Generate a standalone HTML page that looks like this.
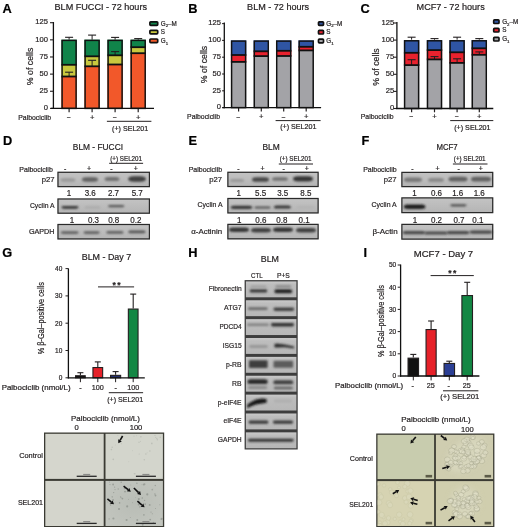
<!DOCTYPE html>
<html><head><meta charset="utf-8"><style>
html,body{margin:0;padding:0;background:#fff;}
svg{display:block;font-family:"Liberation Sans", Arial, Helvetica, sans-serif;filter:blur(0.3px);}
</style></head><body>
<svg width="520" height="528" viewBox="0 0 520 528">
<rect width="520" height="528" fill="#fff"/>
<text x="2.60" y="13.40" font-size="12.8" font-weight="bold" fill="#000" stroke="#000" stroke-width="0.2">A</text>
<text x="54.50" y="10.00" font-size="8.4" textLength="92.5" lengthAdjust="spacingAndGlyphs" fill="#231f20" stroke="#231f20" stroke-width="0.2">BLM FUCCI - 72 hours</text>
<line x1="53.40" y1="22.00" x2="53.40" y2="109.00" stroke="#111" stroke-width="1.3"/>
<line x1="50.00" y1="22.70" x2="53.40" y2="22.70" stroke="#231f20" stroke-width="1.1"/>
<text x="47.90" y="24.45" font-size="7.6" text-anchor="end" fill="#231f20" stroke="#231f20" stroke-width="0.2">125</text>
<line x1="50.00" y1="39.84" x2="53.40" y2="39.84" stroke="#231f20" stroke-width="1.1"/>
<text x="47.90" y="41.59" font-size="7.6" text-anchor="end" fill="#231f20" stroke="#231f20" stroke-width="0.2">100</text>
<line x1="50.00" y1="56.98" x2="53.40" y2="56.98" stroke="#231f20" stroke-width="1.1"/>
<text x="47.90" y="58.73" font-size="7.6" text-anchor="end" fill="#231f20" stroke="#231f20" stroke-width="0.2">75</text>
<line x1="50.00" y1="74.12" x2="53.40" y2="74.12" stroke="#231f20" stroke-width="1.1"/>
<text x="47.90" y="75.87" font-size="7.6" text-anchor="end" fill="#231f20" stroke="#231f20" stroke-width="0.2">50</text>
<line x1="50.00" y1="91.26" x2="53.40" y2="91.26" stroke="#231f20" stroke-width="1.1"/>
<text x="47.90" y="93.01" font-size="7.6" text-anchor="end" fill="#231f20" stroke="#231f20" stroke-width="0.2">25</text>
<line x1="50.00" y1="108.40" x2="53.40" y2="108.40" stroke="#231f20" stroke-width="1.1"/>
<text x="47.90" y="110.15" font-size="7.6" text-anchor="end" fill="#231f20" stroke="#231f20" stroke-width="0.2">0</text>
<text transform="translate(32.80,66.40) rotate(-90)" font-size="9.8" text-anchor="middle" textLength="37.5" lengthAdjust="spacingAndGlyphs" fill="#231f20" stroke="#231f20" stroke-width="0.2">% of cells</text>
<rect x="61.40" y="39.70" width="15.40" height="25.10" fill="#10844a"/>
<rect x="61.40" y="64.80" width="15.40" height="11.70" fill="#c9c83e"/>
<rect x="61.40" y="76.50" width="15.40" height="31.80" fill="#f2582a"/>
<line x1="69.10" y1="37.30" x2="69.10" y2="39.70" stroke="#231f20" stroke-width="1.0"/>
<line x1="65.10" y1="37.30" x2="73.10" y2="37.30" stroke="#231f20" stroke-width="1.1"/>
<line x1="69.10" y1="72.20" x2="69.10" y2="76.50" stroke="#231f20" stroke-width="1.0"/>
<line x1="65.10" y1="72.20" x2="73.10" y2="72.20" stroke="#231f20" stroke-width="1.1"/>
<line x1="61.40" y1="64.80" x2="76.80" y2="64.80" stroke="#111" stroke-width="1.8"/>
<line x1="61.40" y1="76.50" x2="76.80" y2="76.50" stroke="#111" stroke-width="1.8"/>
<rect x="62.10" y="40.40" width="14.00" height="68.00" fill="none" stroke="#111" stroke-width="1.45"/>
<line x1="69.10" y1="108.40" x2="69.10" y2="112.20" stroke="#231f20" stroke-width="1.2"/>
<rect x="84.40" y="39.70" width="15.40" height="16.60" fill="#10844a"/>
<rect x="84.40" y="56.30" width="15.40" height="10.00" fill="#c9c83e"/>
<rect x="84.40" y="66.30" width="15.40" height="42.00" fill="#f2582a"/>
<line x1="92.10" y1="35.10" x2="92.10" y2="39.70" stroke="#231f20" stroke-width="1.0"/>
<line x1="88.10" y1="35.10" x2="96.10" y2="35.10" stroke="#231f20" stroke-width="1.1"/>
<line x1="92.10" y1="60.30" x2="92.10" y2="66.30" stroke="#231f20" stroke-width="1.0"/>
<line x1="88.10" y1="60.30" x2="96.10" y2="60.30" stroke="#231f20" stroke-width="1.1"/>
<line x1="84.40" y1="56.30" x2="99.80" y2="56.30" stroke="#111" stroke-width="1.8"/>
<line x1="84.40" y1="66.30" x2="99.80" y2="66.30" stroke="#111" stroke-width="1.8"/>
<rect x="85.10" y="40.40" width="14.00" height="68.00" fill="none" stroke="#111" stroke-width="1.45"/>
<line x1="92.10" y1="108.40" x2="92.10" y2="112.20" stroke="#231f20" stroke-width="1.2"/>
<rect x="107.40" y="39.70" width="15.40" height="15.60" fill="#10844a"/>
<rect x="107.40" y="55.30" width="15.40" height="9.20" fill="#c9c83e"/>
<rect x="107.40" y="64.50" width="15.40" height="43.80" fill="#f2582a"/>
<line x1="115.10" y1="37.40" x2="115.10" y2="39.70" stroke="#231f20" stroke-width="1.0"/>
<line x1="111.10" y1="37.40" x2="119.10" y2="37.40" stroke="#231f20" stroke-width="1.1"/>
<line x1="115.10" y1="51.60" x2="115.10" y2="55.30" stroke="#231f20" stroke-width="1.0"/>
<line x1="111.10" y1="51.60" x2="119.10" y2="51.60" stroke="#231f20" stroke-width="1.1"/>
<line x1="107.40" y1="55.30" x2="122.80" y2="55.30" stroke="#111" stroke-width="1.8"/>
<line x1="107.40" y1="64.50" x2="122.80" y2="64.50" stroke="#111" stroke-width="1.8"/>
<rect x="108.10" y="40.40" width="14.00" height="68.00" fill="none" stroke="#111" stroke-width="1.45"/>
<line x1="115.10" y1="108.40" x2="115.10" y2="112.20" stroke="#231f20" stroke-width="1.2"/>
<rect x="130.50" y="39.70" width="15.40" height="7.50" fill="#10844a"/>
<rect x="130.50" y="47.20" width="15.40" height="6.00" fill="#c9c83e"/>
<rect x="130.50" y="53.20" width="15.40" height="55.10" fill="#f2582a"/>
<line x1="138.20" y1="38.60" x2="138.20" y2="39.70" stroke="#231f20" stroke-width="1.0"/>
<line x1="134.20" y1="38.60" x2="142.20" y2="38.60" stroke="#231f20" stroke-width="1.1"/>
<line x1="130.50" y1="47.20" x2="145.90" y2="47.20" stroke="#111" stroke-width="1.8"/>
<line x1="130.50" y1="53.20" x2="145.90" y2="53.20" stroke="#111" stroke-width="1.8"/>
<rect x="131.20" y="40.40" width="14.00" height="68.00" fill="none" stroke="#111" stroke-width="1.45"/>
<line x1="138.20" y1="108.40" x2="138.20" y2="112.20" stroke="#231f20" stroke-width="1.2"/>
<line x1="51.00" y1="108.40" x2="154.00" y2="108.40" stroke="#111" stroke-width="1.3"/>
<text x="51.20" y="119.70" font-size="6.9" text-anchor="end" fill="#231f20" stroke="#231f20" stroke-width="0.2">Palbociclib</text>
<text x="68.80" y="119.10" font-size="6.2" text-anchor="middle" fill="#231f20" stroke="#231f20" stroke-width="0.2">–</text>
<text x="92.10" y="119.90" font-size="7.6" text-anchor="middle" fill="#231f20" stroke="#231f20" stroke-width="0.2">+</text>
<text x="114.80" y="119.10" font-size="6.2" text-anchor="middle" fill="#231f20" stroke="#231f20" stroke-width="0.2">–</text>
<text x="138.20" y="119.90" font-size="7.6" text-anchor="middle" fill="#231f20" stroke="#231f20" stroke-width="0.2">+</text>
<line x1="106.90" y1="121.30" x2="151.40" y2="121.30" stroke="#231f20" stroke-width="1.0"/>
<text x="112.10" y="130.60" font-size="6.9" textLength="36.1" lengthAdjust="spacingAndGlyphs" fill="#231f20" stroke="#231f20" stroke-width="0.2">(+) SEL201</text>
<rect x="149.90" y="21.80" width="7.80" height="3.60" fill="#10844a" stroke="#111" stroke-width="1.7" rx="0.8"/>
<text x="160.80" y="25.80" font-size="6.3" fill="#231f20" stroke="#231f20" stroke-width="0.2">G<tspan font-size="4.3" dy="1.6">2</tspan><tspan dy="-1.6">–M</tspan></text>
<rect x="149.90" y="30.30" width="7.80" height="3.60" fill="#c9c83e" stroke="#111" stroke-width="1.7" rx="0.8"/>
<text x="160.80" y="34.30" font-size="6.3" fill="#231f20" stroke="#231f20" stroke-width="0.2">S</text>
<rect x="149.90" y="39.00" width="7.80" height="3.60" fill="#f2582a" stroke="#111" stroke-width="1.7" rx="0.8"/>
<text x="160.80" y="43.00" font-size="6.3" fill="#231f20" stroke="#231f20" stroke-width="0.2">G<tspan font-size="4.3" dy="1.6">1</tspan></text>
<text x="188.20" y="12.90" font-size="12.8" font-weight="bold" fill="#000" stroke="#000" stroke-width="0.2">B</text>
<text x="247.10" y="10.00" font-size="8.4" textLength="62.0" lengthAdjust="spacingAndGlyphs" fill="#231f20" stroke="#231f20" stroke-width="0.2">BLM - 72 hours</text>
<line x1="224.30" y1="22.50" x2="224.30" y2="108.20" stroke="#111" stroke-width="1.3"/>
<line x1="222.10" y1="23.60" x2="224.30" y2="23.60" stroke="#231f20" stroke-width="1.1"/>
<text x="221.00" y="25.35" font-size="7.6" text-anchor="end" fill="#231f20" stroke="#231f20" stroke-width="0.2">125</text>
<line x1="222.10" y1="40.40" x2="224.30" y2="40.40" stroke="#231f20" stroke-width="1.1"/>
<text x="221.00" y="42.15" font-size="7.6" text-anchor="end" fill="#231f20" stroke="#231f20" stroke-width="0.2">100</text>
<line x1="222.10" y1="57.20" x2="224.30" y2="57.20" stroke="#231f20" stroke-width="1.1"/>
<text x="221.00" y="58.95" font-size="7.6" text-anchor="end" fill="#231f20" stroke="#231f20" stroke-width="0.2">75</text>
<line x1="222.10" y1="74.00" x2="224.30" y2="74.00" stroke="#231f20" stroke-width="1.1"/>
<text x="221.00" y="75.75" font-size="7.6" text-anchor="end" fill="#231f20" stroke="#231f20" stroke-width="0.2">50</text>
<line x1="222.10" y1="90.80" x2="224.30" y2="90.80" stroke="#231f20" stroke-width="1.1"/>
<text x="221.00" y="92.55" font-size="7.6" text-anchor="end" fill="#231f20" stroke="#231f20" stroke-width="0.2">25</text>
<line x1="222.10" y1="107.60" x2="224.30" y2="107.60" stroke="#231f20" stroke-width="1.1"/>
<text x="221.00" y="109.35" font-size="7.6" text-anchor="end" fill="#231f20" stroke="#231f20" stroke-width="0.2">0</text>
<text transform="translate(206.50,64.50) rotate(-90)" font-size="9.8" text-anchor="middle" textLength="37.5" lengthAdjust="spacingAndGlyphs" fill="#231f20" stroke="#231f20" stroke-width="0.2">% of cells</text>
<rect x="230.90" y="40.40" width="15.40" height="14.60" fill="#2f55a4"/>
<rect x="230.90" y="55.00" width="15.40" height="6.90" fill="#e8222e"/>
<rect x="230.90" y="61.90" width="15.40" height="45.70" fill="#a3a3a7"/>
<line x1="230.90" y1="55.00" x2="246.30" y2="55.00" stroke="#111" stroke-width="1.8"/>
<line x1="230.90" y1="61.90" x2="246.30" y2="61.90" stroke="#111" stroke-width="1.8"/>
<rect x="231.60" y="41.10" width="14.00" height="66.50" fill="none" stroke="#111" stroke-width="1.45"/>
<line x1="238.60" y1="107.60" x2="238.60" y2="111.40" stroke="#231f20" stroke-width="1.2"/>
<rect x="253.60" y="40.40" width="15.40" height="10.90" fill="#2f55a4"/>
<rect x="253.60" y="51.30" width="15.40" height="4.80" fill="#e8222e"/>
<rect x="253.60" y="56.10" width="15.40" height="51.50" fill="#a3a3a7"/>
<line x1="253.60" y1="51.30" x2="269.00" y2="51.30" stroke="#111" stroke-width="1.8"/>
<line x1="253.60" y1="56.10" x2="269.00" y2="56.10" stroke="#111" stroke-width="1.8"/>
<rect x="254.30" y="41.10" width="14.00" height="66.50" fill="none" stroke="#111" stroke-width="1.45"/>
<line x1="261.30" y1="107.60" x2="261.30" y2="111.40" stroke="#231f20" stroke-width="1.2"/>
<rect x="276.00" y="40.40" width="15.40" height="10.40" fill="#2f55a4"/>
<rect x="276.00" y="50.80" width="15.40" height="5.20" fill="#e8222e"/>
<rect x="276.00" y="56.00" width="15.40" height="51.60" fill="#a3a3a7"/>
<line x1="276.00" y1="50.80" x2="291.40" y2="50.80" stroke="#111" stroke-width="1.8"/>
<line x1="276.00" y1="56.00" x2="291.40" y2="56.00" stroke="#111" stroke-width="1.8"/>
<rect x="276.70" y="41.10" width="14.00" height="66.50" fill="none" stroke="#111" stroke-width="1.45"/>
<line x1="283.70" y1="107.60" x2="283.70" y2="111.40" stroke="#231f20" stroke-width="1.2"/>
<rect x="298.50" y="40.40" width="15.40" height="6.40" fill="#2f55a4"/>
<rect x="298.50" y="46.80" width="15.40" height="3.60" fill="#e8222e"/>
<rect x="298.50" y="50.40" width="15.40" height="57.20" fill="#a3a3a7"/>
<line x1="298.50" y1="46.80" x2="313.90" y2="46.80" stroke="#111" stroke-width="1.8"/>
<line x1="298.50" y1="50.40" x2="313.90" y2="50.40" stroke="#111" stroke-width="1.8"/>
<rect x="299.20" y="41.10" width="14.00" height="66.50" fill="none" stroke="#111" stroke-width="1.45"/>
<line x1="306.20" y1="107.60" x2="306.20" y2="111.40" stroke="#231f20" stroke-width="1.2"/>
<line x1="222.40" y1="107.60" x2="321.10" y2="107.60" stroke="#111" stroke-width="1.3"/>
<text x="220.00" y="119.20" font-size="6.9" text-anchor="end" fill="#231f20" stroke="#231f20" stroke-width="0.2">Palbociclib</text>
<text x="238.30" y="118.60" font-size="6.2" text-anchor="middle" fill="#231f20" stroke="#231f20" stroke-width="0.2">–</text>
<text x="261.30" y="119.40" font-size="7.6" text-anchor="middle" fill="#231f20" stroke="#231f20" stroke-width="0.2">+</text>
<text x="283.40" y="118.60" font-size="6.2" text-anchor="middle" fill="#231f20" stroke="#231f20" stroke-width="0.2">–</text>
<text x="306.20" y="119.40" font-size="7.6" text-anchor="middle" fill="#231f20" stroke="#231f20" stroke-width="0.2">+</text>
<line x1="275.60" y1="120.60" x2="320.60" y2="120.60" stroke="#231f20" stroke-width="1.0"/>
<text x="280.20" y="129.30" font-size="6.9" textLength="36.3" lengthAdjust="spacingAndGlyphs" fill="#231f20" stroke="#231f20" stroke-width="0.2">(+) SEL201</text>
<rect x="318.50" y="21.80" width="5.00" height="3.60" fill="#2f55a4" stroke="#111" stroke-width="1.7" rx="0.8"/>
<text x="326.30" y="25.80" font-size="6.3" fill="#231f20" stroke="#231f20" stroke-width="0.2">G<tspan font-size="4.3" dy="1.6">2</tspan><tspan dy="-1.6">–M</tspan></text>
<rect x="318.50" y="30.40" width="5.00" height="3.60" fill="#e8222e" stroke="#111" stroke-width="1.7" rx="0.8"/>
<text x="326.30" y="34.40" font-size="6.3" fill="#231f20" stroke="#231f20" stroke-width="0.2">S</text>
<rect x="318.50" y="39.20" width="5.00" height="3.60" fill="#a3a3a7" stroke="#111" stroke-width="1.7" rx="0.8"/>
<text x="326.30" y="43.20" font-size="6.3" fill="#231f20" stroke="#231f20" stroke-width="0.2">G<tspan font-size="4.3" dy="1.6">1</tspan></text>
<text x="360.60" y="13.00" font-size="12.8" font-weight="bold" fill="#000" stroke="#000" stroke-width="0.2">C</text>
<text x="416.60" y="10.10" font-size="8.4" textLength="68.1" lengthAdjust="spacingAndGlyphs" fill="#231f20" stroke="#231f20" stroke-width="0.2">MCF7 - 72 hours</text>
<line x1="396.90" y1="22.00" x2="396.90" y2="109.10" stroke="#111" stroke-width="1.3"/>
<line x1="393.50" y1="23.00" x2="396.90" y2="23.00" stroke="#231f20" stroke-width="1.1"/>
<text x="394.20" y="24.75" font-size="7.6" text-anchor="end" fill="#231f20" stroke="#231f20" stroke-width="0.2">125</text>
<line x1="393.50" y1="40.10" x2="396.90" y2="40.10" stroke="#231f20" stroke-width="1.1"/>
<text x="394.20" y="41.85" font-size="7.6" text-anchor="end" fill="#231f20" stroke="#231f20" stroke-width="0.2">100</text>
<line x1="393.50" y1="57.20" x2="396.90" y2="57.20" stroke="#231f20" stroke-width="1.1"/>
<text x="394.20" y="58.95" font-size="7.6" text-anchor="end" fill="#231f20" stroke="#231f20" stroke-width="0.2">75</text>
<line x1="393.50" y1="74.30" x2="396.90" y2="74.30" stroke="#231f20" stroke-width="1.1"/>
<text x="394.20" y="76.05" font-size="7.6" text-anchor="end" fill="#231f20" stroke="#231f20" stroke-width="0.2">50</text>
<line x1="393.50" y1="91.40" x2="396.90" y2="91.40" stroke="#231f20" stroke-width="1.1"/>
<text x="394.20" y="93.15" font-size="7.6" text-anchor="end" fill="#231f20" stroke="#231f20" stroke-width="0.2">25</text>
<line x1="393.50" y1="108.50" x2="396.90" y2="108.50" stroke="#231f20" stroke-width="1.1"/>
<text x="394.20" y="110.25" font-size="7.6" text-anchor="end" fill="#231f20" stroke="#231f20" stroke-width="0.2">0</text>
<text transform="translate(378.80,67.00) rotate(-90)" font-size="9.8" text-anchor="middle" textLength="37.5" lengthAdjust="spacingAndGlyphs" fill="#231f20" stroke="#231f20" stroke-width="0.2">% of cells</text>
<rect x="403.90" y="40.10" width="15.40" height="12.70" fill="#2f55a4"/>
<rect x="403.90" y="52.80" width="15.40" height="12.30" fill="#e8222e"/>
<rect x="403.90" y="65.10" width="15.40" height="43.40" fill="#a3a3a7"/>
<line x1="411.60" y1="37.20" x2="411.60" y2="39.70" stroke="#231f20" stroke-width="1.0"/>
<line x1="407.60" y1="37.20" x2="415.60" y2="37.20" stroke="#231f20" stroke-width="1.1"/>
<line x1="411.60" y1="59.70" x2="411.60" y2="65.10" stroke="#231f20" stroke-width="1.0"/>
<line x1="407.60" y1="59.70" x2="415.60" y2="59.70" stroke="#231f20" stroke-width="1.1"/>
<line x1="403.90" y1="52.80" x2="419.30" y2="52.80" stroke="#111" stroke-width="1.8"/>
<line x1="403.90" y1="65.10" x2="419.30" y2="65.10" stroke="#111" stroke-width="1.8"/>
<rect x="404.60" y="40.80" width="14.00" height="67.70" fill="none" stroke="#111" stroke-width="1.45"/>
<line x1="411.60" y1="108.50" x2="411.60" y2="112.30" stroke="#231f20" stroke-width="1.2"/>
<rect x="426.80" y="40.10" width="15.40" height="10.00" fill="#2f55a4"/>
<rect x="426.80" y="50.10" width="15.40" height="9.30" fill="#e8222e"/>
<rect x="426.80" y="59.40" width="15.40" height="49.10" fill="#a3a3a7"/>
<line x1="434.50" y1="38.60" x2="434.50" y2="39.70" stroke="#231f20" stroke-width="1.0"/>
<line x1="430.50" y1="38.60" x2="438.50" y2="38.60" stroke="#231f20" stroke-width="1.1"/>
<line x1="434.50" y1="56.60" x2="434.50" y2="59.40" stroke="#231f20" stroke-width="1.0"/>
<line x1="430.50" y1="56.60" x2="438.50" y2="56.60" stroke="#231f20" stroke-width="1.1"/>
<line x1="426.80" y1="50.10" x2="442.20" y2="50.10" stroke="#111" stroke-width="1.8"/>
<line x1="426.80" y1="59.40" x2="442.20" y2="59.40" stroke="#111" stroke-width="1.8"/>
<rect x="427.50" y="40.80" width="14.00" height="67.70" fill="none" stroke="#111" stroke-width="1.45"/>
<line x1="434.50" y1="108.50" x2="434.50" y2="112.30" stroke="#231f20" stroke-width="1.2"/>
<rect x="449.40" y="40.10" width="15.40" height="12.20" fill="#2f55a4"/>
<rect x="449.40" y="52.30" width="15.40" height="10.60" fill="#e8222e"/>
<rect x="449.40" y="62.90" width="15.40" height="45.60" fill="#a3a3a7"/>
<line x1="457.10" y1="37.20" x2="457.10" y2="39.70" stroke="#231f20" stroke-width="1.0"/>
<line x1="453.10" y1="37.20" x2="461.10" y2="37.20" stroke="#231f20" stroke-width="1.1"/>
<line x1="457.10" y1="58.80" x2="457.10" y2="62.90" stroke="#231f20" stroke-width="1.0"/>
<line x1="453.10" y1="58.80" x2="461.10" y2="58.80" stroke="#231f20" stroke-width="1.1"/>
<line x1="449.40" y1="52.30" x2="464.80" y2="52.30" stroke="#111" stroke-width="1.8"/>
<line x1="449.40" y1="62.90" x2="464.80" y2="62.90" stroke="#111" stroke-width="1.8"/>
<rect x="450.10" y="40.80" width="14.00" height="67.70" fill="none" stroke="#111" stroke-width="1.45"/>
<line x1="457.10" y1="108.50" x2="457.10" y2="112.30" stroke="#231f20" stroke-width="1.2"/>
<rect x="471.60" y="40.10" width="15.40" height="8.20" fill="#2f55a4"/>
<rect x="471.60" y="48.30" width="15.40" height="6.50" fill="#e8222e"/>
<rect x="471.60" y="54.80" width="15.40" height="53.70" fill="#a3a3a7"/>
<line x1="479.30" y1="38.60" x2="479.30" y2="39.70" stroke="#231f20" stroke-width="1.0"/>
<line x1="475.30" y1="38.60" x2="483.30" y2="38.60" stroke="#231f20" stroke-width="1.1"/>
<line x1="479.30" y1="51.90" x2="479.30" y2="54.80" stroke="#231f20" stroke-width="1.0"/>
<line x1="475.30" y1="51.90" x2="483.30" y2="51.90" stroke="#231f20" stroke-width="1.1"/>
<line x1="471.60" y1="48.30" x2="487.00" y2="48.30" stroke="#111" stroke-width="1.8"/>
<line x1="471.60" y1="54.80" x2="487.00" y2="54.80" stroke="#111" stroke-width="1.8"/>
<rect x="472.30" y="40.80" width="14.00" height="67.70" fill="none" stroke="#111" stroke-width="1.45"/>
<line x1="479.30" y1="108.50" x2="479.30" y2="112.30" stroke="#231f20" stroke-width="1.2"/>
<line x1="396.00" y1="108.50" x2="493.30" y2="108.50" stroke="#111" stroke-width="1.3"/>
<text x="393.70" y="119.00" font-size="6.9" text-anchor="end" fill="#231f20" stroke="#231f20" stroke-width="0.2">Palbociclib</text>
<text x="411.30" y="118.40" font-size="6.2" text-anchor="middle" fill="#231f20" stroke="#231f20" stroke-width="0.2">–</text>
<text x="434.50" y="119.20" font-size="7.6" text-anchor="middle" fill="#231f20" stroke="#231f20" stroke-width="0.2">+</text>
<text x="456.80" y="118.40" font-size="6.2" text-anchor="middle" fill="#231f20" stroke="#231f20" stroke-width="0.2">–</text>
<text x="479.30" y="119.20" font-size="7.6" text-anchor="middle" fill="#231f20" stroke="#231f20" stroke-width="0.2">+</text>
<line x1="450.20" y1="120.60" x2="493.30" y2="120.60" stroke="#231f20" stroke-width="1.0"/>
<text x="454.20" y="129.80" font-size="6.9" textLength="36.4" lengthAdjust="spacingAndGlyphs" fill="#231f20" stroke="#231f20" stroke-width="0.2">(+) SEL201</text>
<rect x="493.70" y="19.90" width="5.30" height="3.60" fill="#2f55a4" stroke="#111" stroke-width="1.7" rx="0.8"/>
<text x="502.20" y="23.90" font-size="6.3" fill="#231f20" stroke="#231f20" stroke-width="0.2">G<tspan font-size="4.3" dy="1.6">2</tspan><tspan dy="-1.6">–M</tspan></text>
<rect x="493.70" y="28.40" width="5.30" height="3.60" fill="#e8222e" stroke="#111" stroke-width="1.7" rx="0.8"/>
<text x="502.20" y="32.40" font-size="6.3" fill="#231f20" stroke="#231f20" stroke-width="0.2">S</text>
<rect x="493.70" y="37.40" width="5.30" height="3.60" fill="#a3a3a7" stroke="#111" stroke-width="1.7" rx="0.8"/>
<text x="502.20" y="41.40" font-size="6.3" fill="#231f20" stroke="#231f20" stroke-width="0.2">G<tspan font-size="4.3" dy="1.6">1</tspan></text>
<defs><filter id="bl" x="-30%" y="-100%" width="160%" height="300%"><feGaussianBlur stdDeviation="1.1"/></filter><filter id="bl2" x="-30%" y="-100%" width="160%" height="300%"><feGaussianBlur stdDeviation="0.85"/></filter><linearGradient id="bgH" x1="0" y1="0" x2="0" y2="1"><stop offset="0" stop-color="#c9c9c9"/><stop offset="0.2" stop-color="#bdbdbd"/><stop offset="1" stop-color="#b7b7b7"/></linearGradient><linearGradient id="bg" x1="0" y1="0" x2="0" y2="1"><stop offset="0" stop-color="#c4c4c4"/><stop offset="1" stop-color="#b4b4b4"/></linearGradient></defs>
<text x="3.00" y="144.80" font-size="12.8" font-weight="bold" fill="#000" stroke="#000" stroke-width="0.2">D</text>
<text x="72.80" y="150.00" font-size="8.4" textLength="50.2" lengthAdjust="spacingAndGlyphs" fill="#231f20" stroke="#231f20" stroke-width="0.2">BLM - FUCCI</text>
<text x="110.30" y="161.00" font-size="6.6" textLength="31.7" lengthAdjust="spacingAndGlyphs" fill="#231f20" stroke="#231f20" stroke-width="0.2">(+) SEL201</text>
<line x1="109.20" y1="163.30" x2="143.10" y2="163.30" stroke="#231f20" stroke-width="1.0"/>
<text x="52.80" y="171.60" font-size="7.0" text-anchor="end" fill="#231f20" stroke="#231f20" stroke-width="0.2">Palbociclib</text>
<text x="65.20" y="171.30" font-size="7.0" text-anchor="middle" fill="#231f20" stroke="#231f20" stroke-width="0.2">-</text>
<text x="89.10" y="171.30" font-size="7.0" text-anchor="middle" fill="#231f20" stroke="#231f20" stroke-width="0.2">+</text>
<text x="111.30" y="171.30" font-size="7.0" text-anchor="middle" fill="#231f20" stroke="#231f20" stroke-width="0.2">-</text>
<text x="135.70" y="171.30" font-size="7.0" text-anchor="middle" fill="#231f20" stroke="#231f20" stroke-width="0.2">+</text>
<rect x="57.40" y="171.70" width="92.60" height="15.50" fill="url(#bg)"/>
<rect x="60.50" y="178.20" width="15.00" height="3.60" rx="3.60" ry="1.80" fill="rgb(153,153,153)" filter="url(#bl)"/>
<rect x="82.00" y="177.30" width="16.00" height="4.40" rx="4.40" ry="2.20" fill="rgb(96,96,96)" filter="url(#bl)"/>
<rect x="104.50" y="177.00" width="15.00" height="4.00" rx="4.00" ry="2.00" fill="rgb(112,112,112)" filter="url(#bl)"/>
<rect x="128.00" y="176.20" width="18.00" height="5.60" rx="5.60" ry="2.80" fill="rgb(63,63,63)" filter="url(#bl)"/>
<rect x="58.00" y="172.30" width="91.40" height="14.30" fill="none" stroke="#2a2a2a" stroke-width="1.2"/>
<text x="54.50" y="182.22" font-size="7.7" text-anchor="end" fill="#231f20" stroke="#231f20" stroke-width="0.2">p27</text>
<text x="69.00" y="196.14" font-size="9.0" text-anchor="middle" textLength="4.45" lengthAdjust="spacingAndGlyphs" fill="#231f20" stroke="#231f20" stroke-width="0.2">1</text>
<text x="90.20" y="196.14" font-size="9.0" text-anchor="middle" textLength="11.12" lengthAdjust="spacingAndGlyphs" fill="#231f20" stroke="#231f20" stroke-width="0.2">3.6</text>
<text x="113.50" y="196.14" font-size="9.0" text-anchor="middle" textLength="11.12" lengthAdjust="spacingAndGlyphs" fill="#231f20" stroke="#231f20" stroke-width="0.2">2.7</text>
<text x="137.20" y="196.14" font-size="9.0" text-anchor="middle" textLength="11.12" lengthAdjust="spacingAndGlyphs" fill="#231f20" stroke="#231f20" stroke-width="0.2">5.7</text>
<rect x="57.40" y="198.40" width="92.60" height="15.40" fill="url(#bg)"/>
<rect x="61.40" y="205.90" width="17.20" height="2.80" rx="2.80" ry="1.40" fill="rgb(54,54,54)" filter="url(#bl)"/>
<rect x="84.50" y="206.20" width="16.00" height="2.40" rx="2.40" ry="1.20" fill="rgb(170,170,170)" filter="url(#bl)"/>
<rect x="108.00" y="204.90" width="16.40" height="2.40" rx="2.40" ry="1.20" fill="rgb(87,87,87)" filter="url(#bl)"/>
<rect x="58.00" y="199.00" width="91.40" height="14.20" fill="none" stroke="#2a2a2a" stroke-width="1.2"/>
<text x="54.50" y="207.77" font-size="7.7" text-anchor="end" textLength="24.6" lengthAdjust="spacingAndGlyphs" fill="#231f20" stroke="#231f20" stroke-width="0.2">Cyclin A</text>
<text x="71.90" y="222.74" font-size="9.0" text-anchor="middle" textLength="4.45" lengthAdjust="spacingAndGlyphs" fill="#231f20" stroke="#231f20" stroke-width="0.2">1</text>
<text x="93.50" y="222.74" font-size="9.0" text-anchor="middle" textLength="11.12" lengthAdjust="spacingAndGlyphs" fill="#231f20" stroke="#231f20" stroke-width="0.2">0.3</text>
<text x="113.70" y="222.74" font-size="9.0" text-anchor="middle" textLength="11.12" lengthAdjust="spacingAndGlyphs" fill="#231f20" stroke="#231f20" stroke-width="0.2">0.8</text>
<text x="135.80" y="222.74" font-size="9.0" text-anchor="middle" textLength="11.12" lengthAdjust="spacingAndGlyphs" fill="#231f20" stroke="#231f20" stroke-width="0.2">0.2</text>
<rect x="57.40" y="223.90" width="92.60" height="15.60" fill="url(#bg)"/>
<rect x="60.70" y="231.30" width="18.00" height="2.60" rx="2.60" ry="1.30" fill="rgb(96,96,96)" filter="url(#bl)"/>
<rect x="83.40" y="231.30" width="16.40" height="2.60" rx="2.60" ry="1.30" fill="rgb(96,96,96)" filter="url(#bl)"/>
<rect x="106.20" y="231.10" width="17.40" height="2.60" rx="2.60" ry="1.30" fill="rgb(96,96,96)" filter="url(#bl)"/>
<rect x="128.20" y="230.50" width="17.40" height="2.80" rx="2.80" ry="1.40" fill="rgb(82,82,82)" filter="url(#bl)"/>
<rect x="58.00" y="224.50" width="91.40" height="14.40" fill="none" stroke="#2a2a2a" stroke-width="1.2"/>
<text x="54.50" y="233.97" font-size="7.7" text-anchor="end" textLength="25.6" lengthAdjust="spacingAndGlyphs" fill="#231f20" stroke="#231f20" stroke-width="0.2">GAPDH</text>
<text x="188.60" y="144.90" font-size="12.8" font-weight="bold" fill="#000" stroke="#000" stroke-width="0.2">E</text>
<text x="262.50" y="150.00" font-size="8.4" textLength="17.3" lengthAdjust="spacingAndGlyphs" fill="#231f20" stroke="#231f20" stroke-width="0.2">BLM</text>
<text x="279.80" y="161.00" font-size="6.6" textLength="31.7" lengthAdjust="spacingAndGlyphs" fill="#231f20" stroke="#231f20" stroke-width="0.2">(+) SEL201</text>
<line x1="278.80" y1="164.00" x2="313.00" y2="164.00" stroke="#231f20" stroke-width="1.0"/>
<text x="222.10" y="171.60" font-size="7.0" text-anchor="end" fill="#231f20" stroke="#231f20" stroke-width="0.2">Palbociclib</text>
<text x="238.50" y="171.30" font-size="7.0" text-anchor="middle" fill="#231f20" stroke="#231f20" stroke-width="0.2">-</text>
<text x="262.50" y="171.30" font-size="7.0" text-anchor="middle" fill="#231f20" stroke="#231f20" stroke-width="0.2">+</text>
<text x="283.70" y="171.30" font-size="7.0" text-anchor="middle" fill="#231f20" stroke="#231f20" stroke-width="0.2">-</text>
<text x="306.70" y="171.30" font-size="7.0" text-anchor="middle" fill="#231f20" stroke="#231f20" stroke-width="0.2">+</text>
<rect x="227.30" y="171.70" width="91.40" height="15.40" fill="url(#bg)"/>
<rect x="230.00" y="179.00" width="14.00" height="3.00" rx="3.00" ry="1.50" fill="rgb(153,153,153)" filter="url(#bl)"/>
<rect x="252.00" y="177.20" width="17.00" height="4.60" rx="4.60" ry="2.30" fill="rgb(71,71,71)" filter="url(#bl)"/>
<rect x="272.00" y="177.20" width="16.00" height="3.60" rx="3.60" ry="1.80" fill="rgb(112,112,112)" filter="url(#bl)"/>
<rect x="293.00" y="176.20" width="20.00" height="5.20" rx="5.20" ry="2.60" fill="rgb(54,54,54)" filter="url(#bl)"/>
<rect x="227.90" y="172.30" width="90.20" height="14.20" fill="none" stroke="#2a2a2a" stroke-width="1.2"/>
<text x="222.10" y="182.17" font-size="7.7" text-anchor="end" fill="#231f20" stroke="#231f20" stroke-width="0.2">p27</text>
<text x="238.80" y="195.54" font-size="9.0" text-anchor="middle" textLength="4.45" lengthAdjust="spacingAndGlyphs" fill="#231f20" stroke="#231f20" stroke-width="0.2">1</text>
<text x="260.60" y="195.54" font-size="9.0" text-anchor="middle" textLength="11.12" lengthAdjust="spacingAndGlyphs" fill="#231f20" stroke="#231f20" stroke-width="0.2">5.5</text>
<text x="282.70" y="195.54" font-size="9.0" text-anchor="middle" textLength="11.12" lengthAdjust="spacingAndGlyphs" fill="#231f20" stroke="#231f20" stroke-width="0.2">3.5</text>
<text x="305.80" y="195.54" font-size="9.0" text-anchor="middle" textLength="11.12" lengthAdjust="spacingAndGlyphs" fill="#231f20" stroke="#231f20" stroke-width="0.2">8.5</text>
<rect x="227.30" y="197.90" width="91.40" height="15.60" fill="url(#bg)"/>
<rect x="230.70" y="205.70" width="21.60" height="3.20" rx="3.20" ry="1.60" fill="rgb(54,54,54)" filter="url(#bl)"/>
<rect x="254.30" y="206.40" width="16.40" height="2.20" rx="2.20" ry="1.10" fill="rgb(79,79,79)" filter="url(#bl)"/>
<rect x="273.90" y="205.40" width="17.00" height="3.20" rx="3.20" ry="1.60" fill="rgb(54,54,54)" filter="url(#bl)"/>
<rect x="296.50" y="206.30" width="18.00" height="2.00" rx="2.00" ry="1.00" fill="rgb(178,178,178)" filter="url(#bl)"/>
<rect x="227.90" y="198.50" width="90.20" height="14.40" fill="none" stroke="#2a2a2a" stroke-width="1.2"/>
<text x="222.50" y="207.37" font-size="7.7" text-anchor="end" textLength="24.9" lengthAdjust="spacingAndGlyphs" fill="#231f20" stroke="#231f20" stroke-width="0.2">Cyclin A</text>
<text x="239.10" y="222.74" font-size="9.0" text-anchor="middle" textLength="4.45" lengthAdjust="spacingAndGlyphs" fill="#231f20" stroke="#231f20" stroke-width="0.2">1</text>
<text x="260.90" y="222.74" font-size="9.0" text-anchor="middle" textLength="11.12" lengthAdjust="spacingAndGlyphs" fill="#231f20" stroke="#231f20" stroke-width="0.2">0.6</text>
<text x="281.80" y="222.74" font-size="9.0" text-anchor="middle" textLength="11.12" lengthAdjust="spacingAndGlyphs" fill="#231f20" stroke="#231f20" stroke-width="0.2">0.8</text>
<text x="304.10" y="222.74" font-size="9.0" text-anchor="middle" textLength="11.12" lengthAdjust="spacingAndGlyphs" fill="#231f20" stroke="#231f20" stroke-width="0.2">0.1</text>
<rect x="227.30" y="223.80" width="91.40" height="15.60" fill="url(#bg)"/>
<rect x="229.00" y="227.60" width="20.00" height="4.40" rx="4.40" ry="2.20" fill="rgb(54,54,54)" filter="url(#bl)"/>
<rect x="251.00" y="228.10" width="20.00" height="4.40" rx="4.40" ry="2.20" fill="rgb(63,63,63)" filter="url(#bl)"/>
<rect x="273.00" y="227.60" width="20.00" height="4.40" rx="4.40" ry="2.20" fill="rgb(54,54,54)" filter="url(#bl)"/>
<rect x="296.00" y="228.00" width="20.00" height="4.40" rx="4.40" ry="2.20" fill="rgb(63,63,63)" filter="url(#bl)"/>
<rect x="227.90" y="224.40" width="90.20" height="14.40" fill="none" stroke="#2a2a2a" stroke-width="1.2"/>
<text x="222.10" y="233.87" font-size="7.7" text-anchor="end" textLength="30.8" lengthAdjust="spacingAndGlyphs" fill="#231f20" stroke="#231f20" stroke-width="0.2">α-Actinin</text>
<text x="361.60" y="145.00" font-size="12.8" font-weight="bold" fill="#000" stroke="#000" stroke-width="0.2">F</text>
<text x="436.50" y="150.00" font-size="8.4" textLength="21.2" lengthAdjust="spacingAndGlyphs" fill="#231f20" stroke="#231f20" stroke-width="0.2">MCF7</text>
<text x="453.80" y="161.00" font-size="6.6" textLength="31.8" lengthAdjust="spacingAndGlyphs" fill="#231f20" stroke="#231f20" stroke-width="0.2">(+) SEL201</text>
<line x1="452.90" y1="164.00" x2="487.50" y2="164.00" stroke="#231f20" stroke-width="1.0"/>
<text x="396.60" y="171.60" font-size="7.0" text-anchor="end" fill="#231f20" stroke="#231f20" stroke-width="0.2">Palbociclib</text>
<text x="412.50" y="171.30" font-size="7.0" text-anchor="middle" fill="#231f20" stroke="#231f20" stroke-width="0.2">-</text>
<text x="437.50" y="171.30" font-size="7.0" text-anchor="middle" fill="#231f20" stroke="#231f20" stroke-width="0.2">+</text>
<text x="458.70" y="171.30" font-size="7.0" text-anchor="middle" fill="#231f20" stroke="#231f20" stroke-width="0.2">-</text>
<text x="480.80" y="171.30" font-size="7.0" text-anchor="middle" fill="#231f20" stroke="#231f20" stroke-width="0.2">+</text>
<rect x="401.30" y="171.80" width="92.00" height="15.40" fill="url(#bg)"/>
<rect x="404.00" y="177.60" width="18.00" height="4.40" rx="4.40" ry="2.20" fill="rgb(120,120,120)" filter="url(#bl)"/>
<rect x="428.00" y="178.00" width="16.00" height="4.00" rx="4.00" ry="2.00" fill="rgb(137,137,137)" filter="url(#bl)"/>
<rect x="448.50" y="176.80" width="19.00" height="4.80" rx="4.80" ry="2.40" fill="rgb(96,96,96)" filter="url(#bl)"/>
<rect x="471.00" y="176.80" width="20.00" height="4.80" rx="4.80" ry="2.40" fill="rgb(96,96,96)" filter="url(#bl)"/>
<rect x="401.90" y="172.40" width="90.80" height="14.20" fill="none" stroke="#2a2a2a" stroke-width="1.2"/>
<text x="396.60" y="182.27" font-size="7.7" text-anchor="end" fill="#231f20" stroke="#231f20" stroke-width="0.2">p27</text>
<text x="414.40" y="195.54" font-size="9.0" text-anchor="middle" textLength="4.45" lengthAdjust="spacingAndGlyphs" fill="#231f20" stroke="#231f20" stroke-width="0.2">1</text>
<text x="436.50" y="195.54" font-size="9.0" text-anchor="middle" textLength="11.12" lengthAdjust="spacingAndGlyphs" fill="#231f20" stroke="#231f20" stroke-width="0.2">0.6</text>
<text x="457.70" y="195.54" font-size="9.0" text-anchor="middle" textLength="11.12" lengthAdjust="spacingAndGlyphs" fill="#231f20" stroke="#231f20" stroke-width="0.2">1.6</text>
<text x="479.20" y="195.54" font-size="9.0" text-anchor="middle" textLength="11.12" lengthAdjust="spacingAndGlyphs" fill="#231f20" stroke="#231f20" stroke-width="0.2">1.6</text>
<rect x="401.30" y="197.30" width="92.00" height="15.90" fill="url(#bg)"/>
<rect x="403.80" y="204.60" width="21.60" height="4.40" rx="4.40" ry="2.20" fill="rgb(30,30,30)" filter="url(#bl)"/>
<rect x="450.20" y="204.20" width="16.40" height="2.20" rx="2.20" ry="1.10" fill="rgb(76,76,76)" filter="url(#bl)"/>
<rect x="401.90" y="197.90" width="90.80" height="14.70" fill="none" stroke="#2a2a2a" stroke-width="1.2"/>
<text x="396.70" y="206.92" font-size="7.7" text-anchor="end" textLength="25.1" lengthAdjust="spacingAndGlyphs" fill="#231f20" stroke="#231f20" stroke-width="0.2">Cyclin A</text>
<text x="414.90" y="222.74" font-size="9.0" text-anchor="middle" textLength="4.45" lengthAdjust="spacingAndGlyphs" fill="#231f20" stroke="#231f20" stroke-width="0.2">1</text>
<text x="436.50" y="222.74" font-size="9.0" text-anchor="middle" textLength="11.12" lengthAdjust="spacingAndGlyphs" fill="#231f20" stroke="#231f20" stroke-width="0.2">0.2</text>
<text x="459.00" y="222.74" font-size="9.0" text-anchor="middle" textLength="11.12" lengthAdjust="spacingAndGlyphs" fill="#231f20" stroke="#231f20" stroke-width="0.2">0.7</text>
<text x="477.80" y="222.74" font-size="9.0" text-anchor="middle" textLength="11.12" lengthAdjust="spacingAndGlyphs" fill="#231f20" stroke="#231f20" stroke-width="0.2">0.1</text>
<rect x="401.30" y="223.80" width="92.00" height="15.90" fill="url(#bg)"/>
<rect x="402.50" y="231.00" width="23.00" height="3.20" rx="3.20" ry="1.60" fill="rgb(71,71,71)" filter="url(#bl)"/>
<rect x="424.50" y="231.40" width="23.00" height="3.20" rx="3.20" ry="1.60" fill="rgb(71,71,71)" filter="url(#bl)"/>
<rect x="446.50" y="231.00" width="23.00" height="3.20" rx="3.20" ry="1.60" fill="rgb(71,71,71)" filter="url(#bl)"/>
<rect x="469.50" y="230.50" width="23.00" height="3.20" rx="3.20" ry="1.60" fill="rgb(71,71,71)" filter="url(#bl)"/>
<rect x="401.90" y="224.40" width="90.80" height="14.70" fill="none" stroke="#2a2a2a" stroke-width="1.2"/>
<text x="397.60" y="234.02" font-size="7.7" text-anchor="end" textLength="25.1" lengthAdjust="spacingAndGlyphs" fill="#231f20" stroke="#231f20" stroke-width="0.2">β-Actin</text>
<text x="2.20" y="256.90" font-size="12.8" font-weight="bold" fill="#000" stroke="#000" stroke-width="0.2">G</text>
<text x="81.70" y="259.80" font-size="8.4" textLength="49.5" lengthAdjust="spacingAndGlyphs" fill="#231f20" stroke="#231f20" stroke-width="0.2">BLM - Day 7</text>
<line x1="68.40" y1="268.40" x2="68.40" y2="378.40" stroke="#111" stroke-width="1.3"/>
<line x1="65.50" y1="377.80" x2="68.40" y2="377.80" stroke="#231f20" stroke-width="1.0"/>
<text x="62.30" y="380.10" font-size="6.5" text-anchor="end" fill="#231f20" stroke="#231f20" stroke-width="0.2">0</text>
<line x1="65.50" y1="350.50" x2="68.40" y2="350.50" stroke="#231f20" stroke-width="1.0"/>
<text x="62.30" y="352.80" font-size="6.5" text-anchor="end" fill="#231f20" stroke="#231f20" stroke-width="0.2">10</text>
<line x1="65.50" y1="323.20" x2="68.40" y2="323.20" stroke="#231f20" stroke-width="1.0"/>
<text x="62.30" y="325.50" font-size="6.5" text-anchor="end" fill="#231f20" stroke="#231f20" stroke-width="0.2">20</text>
<line x1="65.50" y1="295.90" x2="68.40" y2="295.90" stroke="#231f20" stroke-width="1.0"/>
<text x="62.30" y="298.20" font-size="6.5" text-anchor="end" fill="#231f20" stroke="#231f20" stroke-width="0.2">30</text>
<line x1="65.50" y1="268.60" x2="68.40" y2="268.60" stroke="#231f20" stroke-width="1.0"/>
<text x="62.30" y="270.90" font-size="6.5" text-anchor="end" fill="#231f20" stroke="#231f20" stroke-width="0.2">40</text>
<text transform="translate(44.40,318.20) rotate(-90)" font-size="8.2" text-anchor="middle" textLength="72.0" lengthAdjust="spacingAndGlyphs" fill="#231f20" stroke="#231f20" stroke-width="0.2">% β-Gal–positive cells</text>
<line x1="80.40" y1="372.70" x2="80.40" y2="375.20" stroke="#231f20" stroke-width="1.1"/>
<line x1="77.40" y1="372.70" x2="83.40" y2="372.70" stroke="#231f20" stroke-width="1.1"/>
<rect x="75.55" y="375.75" width="9.70" height="2.05" fill="#111" stroke="#231f20" stroke-width="1.1"/>
<line x1="80.40" y1="377.80" x2="80.40" y2="382.20" stroke="#231f20" stroke-width="1.0"/>
<line x1="97.80" y1="361.90" x2="97.80" y2="367.00" stroke="#231f20" stroke-width="1.1"/>
<line x1="94.80" y1="361.90" x2="100.80" y2="361.90" stroke="#231f20" stroke-width="1.1"/>
<rect x="92.95" y="367.55" width="9.70" height="10.25" fill="#e62129" stroke="#231f20" stroke-width="1.1"/>
<line x1="97.80" y1="377.80" x2="97.80" y2="382.20" stroke="#231f20" stroke-width="1.0"/>
<line x1="115.60" y1="371.60" x2="115.60" y2="374.80" stroke="#231f20" stroke-width="1.1"/>
<line x1="112.60" y1="371.60" x2="118.60" y2="371.60" stroke="#231f20" stroke-width="1.1"/>
<rect x="110.55" y="375.35" width="10.10" height="2.45" fill="#24306e" stroke="#231f20" stroke-width="1.1"/>
<line x1="115.60" y1="377.80" x2="115.60" y2="382.20" stroke="#231f20" stroke-width="1.0"/>
<line x1="133.20" y1="294.10" x2="133.20" y2="308.50" stroke="#231f20" stroke-width="1.1"/>
<line x1="130.20" y1="294.10" x2="136.20" y2="294.10" stroke="#231f20" stroke-width="1.1"/>
<rect x="128.35" y="309.05" width="9.70" height="68.75" fill="#138744" stroke="#231f20" stroke-width="1.1"/>
<line x1="133.20" y1="377.80" x2="133.20" y2="382.20" stroke="#231f20" stroke-width="1.0"/>
<line x1="67.80" y1="377.80" x2="144.80" y2="377.80" stroke="#111" stroke-width="1.3"/>
<line x1="98.00" y1="286.90" x2="134.10" y2="286.90" stroke="#231f20" stroke-width="1.0"/>
<text x="117.30" y="287.80" font-size="8.6" text-anchor="middle" font-weight="bold" fill="#231f20" stroke="#231f20" stroke-width="0.2" letter-spacing="1.4">**</text>
<text x="80.40" y="390.20" font-size="7.2" text-anchor="middle" fill="#231f20" stroke="#231f20" stroke-width="0.2">-</text>
<text x="97.80" y="390.20" font-size="7.2" text-anchor="middle" fill="#231f20" stroke="#231f20" stroke-width="0.2">100</text>
<text x="115.60" y="390.20" font-size="7.2" text-anchor="middle" fill="#231f20" stroke="#231f20" stroke-width="0.2">-</text>
<text x="133.20" y="390.20" font-size="7.2" text-anchor="middle" fill="#231f20" stroke="#231f20" stroke-width="0.2">100</text>
<text x="1.70" y="390.20" font-size="7.2" textLength="68.9" lengthAdjust="spacingAndGlyphs" fill="#231f20" stroke="#231f20" stroke-width="0.2">Palbociclib (nmol/L)</text>
<line x1="108.80" y1="392.70" x2="143.10" y2="392.70" stroke="#231f20" stroke-width="1.0"/>
<text x="107.20" y="401.60" font-size="7.2" textLength="35.9" lengthAdjust="spacingAndGlyphs" fill="#231f20" stroke="#231f20" stroke-width="0.2">(+) SEL201</text>
<text x="363.50" y="256.50" font-size="12.8" font-weight="bold" fill="#000" stroke="#000" stroke-width="0.2">I</text>
<text x="413.80" y="257.30" font-size="8.4" textLength="59.3" lengthAdjust="spacingAndGlyphs" fill="#231f20" stroke="#231f20" stroke-width="0.2">MCF7 - Day 7</text>
<line x1="400.60" y1="264.50" x2="400.60" y2="376.60" stroke="#111" stroke-width="1.3"/>
<line x1="397.70" y1="376.00" x2="400.60" y2="376.00" stroke="#231f20" stroke-width="1.0"/>
<text x="396.20" y="378.30" font-size="6.5" text-anchor="end" fill="#231f20" stroke="#231f20" stroke-width="0.2">0</text>
<line x1="397.70" y1="353.80" x2="400.60" y2="353.80" stroke="#231f20" stroke-width="1.0"/>
<text x="396.20" y="356.10" font-size="6.5" text-anchor="end" fill="#231f20" stroke="#231f20" stroke-width="0.2">10</text>
<line x1="397.70" y1="331.60" x2="400.60" y2="331.60" stroke="#231f20" stroke-width="1.0"/>
<text x="396.20" y="333.90" font-size="6.5" text-anchor="end" fill="#231f20" stroke="#231f20" stroke-width="0.2">20</text>
<line x1="397.70" y1="309.40" x2="400.60" y2="309.40" stroke="#231f20" stroke-width="1.0"/>
<text x="396.20" y="311.70" font-size="6.5" text-anchor="end" fill="#231f20" stroke="#231f20" stroke-width="0.2">30</text>
<line x1="397.70" y1="287.20" x2="400.60" y2="287.20" stroke="#231f20" stroke-width="1.0"/>
<text x="396.20" y="289.50" font-size="6.5" text-anchor="end" fill="#231f20" stroke="#231f20" stroke-width="0.2">40</text>
<line x1="397.70" y1="265.00" x2="400.60" y2="265.00" stroke="#231f20" stroke-width="1.0"/>
<text x="396.20" y="267.30" font-size="6.5" text-anchor="end" fill="#231f20" stroke="#231f20" stroke-width="0.2">50</text>
<text transform="translate(383.80,321.10) rotate(-90)" font-size="8.2" text-anchor="middle" textLength="72.0" lengthAdjust="spacingAndGlyphs" fill="#231f20" stroke="#231f20" stroke-width="0.2">% β-Gal–positive cells</text>
<line x1="413.30" y1="354.40" x2="413.30" y2="357.60" stroke="#231f20" stroke-width="1.1"/>
<line x1="410.30" y1="354.40" x2="416.30" y2="354.40" stroke="#231f20" stroke-width="1.1"/>
<rect x="408.05" y="358.15" width="10.50" height="17.85" fill="#111" stroke="#231f20" stroke-width="1.1"/>
<line x1="413.30" y1="376.00" x2="413.30" y2="380.40" stroke="#231f20" stroke-width="1.0"/>
<line x1="431.10" y1="321.00" x2="431.10" y2="329.00" stroke="#231f20" stroke-width="1.1"/>
<line x1="428.10" y1="321.00" x2="434.10" y2="321.00" stroke="#231f20" stroke-width="1.1"/>
<rect x="426.05" y="329.55" width="10.10" height="46.45" fill="#e62129" stroke="#231f20" stroke-width="1.1"/>
<line x1="431.10" y1="376.00" x2="431.10" y2="380.40" stroke="#231f20" stroke-width="1.0"/>
<line x1="449.30" y1="361.20" x2="449.30" y2="362.90" stroke="#231f20" stroke-width="1.1"/>
<line x1="446.30" y1="361.20" x2="452.30" y2="361.20" stroke="#231f20" stroke-width="1.1"/>
<rect x="444.05" y="363.45" width="10.50" height="12.55" fill="#2b3f94" stroke="#231f20" stroke-width="1.1"/>
<line x1="449.30" y1="376.00" x2="449.30" y2="380.40" stroke="#231f20" stroke-width="1.0"/>
<line x1="467.20" y1="282.30" x2="467.20" y2="295.00" stroke="#231f20" stroke-width="1.1"/>
<line x1="464.20" y1="282.30" x2="470.20" y2="282.30" stroke="#231f20" stroke-width="1.1"/>
<rect x="461.90" y="295.55" width="10.60" height="80.45" fill="#138744" stroke="#231f20" stroke-width="1.1"/>
<line x1="467.20" y1="376.00" x2="467.20" y2="380.40" stroke="#231f20" stroke-width="1.0"/>
<line x1="400.00" y1="376.00" x2="479.40" y2="376.00" stroke="#111" stroke-width="1.3"/>
<line x1="430.60" y1="275.60" x2="473.80" y2="275.60" stroke="#231f20" stroke-width="1.0"/>
<text x="452.90" y="276.20" font-size="8.6" text-anchor="middle" font-weight="bold" fill="#231f20" stroke="#231f20" stroke-width="0.2" letter-spacing="1.4">**</text>
<text x="412.80" y="388.40" font-size="7.2" text-anchor="middle" fill="#231f20" stroke="#231f20" stroke-width="0.2">-</text>
<text x="430.80" y="388.40" font-size="7.2" text-anchor="middle" fill="#231f20" stroke="#231f20" stroke-width="0.2">25</text>
<text x="448.80" y="388.40" font-size="7.2" text-anchor="middle" fill="#231f20" stroke="#231f20" stroke-width="0.2">-</text>
<text x="466.70" y="388.40" font-size="7.2" text-anchor="middle" fill="#231f20" stroke="#231f20" stroke-width="0.2">25</text>
<text x="335.00" y="388.40" font-size="7.2" textLength="68.1" lengthAdjust="spacingAndGlyphs" fill="#231f20" stroke="#231f20" stroke-width="0.2">Palbociclib (nmol/L)</text>
<line x1="443.00" y1="390.80" x2="478.40" y2="390.80" stroke="#231f20" stroke-width="1.0"/>
<text x="440.30" y="399.10" font-size="7.2" textLength="39.1" lengthAdjust="spacingAndGlyphs" fill="#231f20" stroke="#231f20" stroke-width="0.2">(+) SEL201</text>
<radialGradient id="gbr" cx="0.5" cy="0.5" r="0.7"><stop offset="0" stop-color="#b9bdb6"/><stop offset="1" stop-color="#c3c6bf"/></radialGradient>
<rect x="44.00" y="432.50" width="120.20" height="94.50" fill="#3a3a33"/>
<rect x="45.30" y="433.80" width="58.40" height="45.10" fill="#d5d6cd"/>
<rect x="105.50" y="433.80" width="57.40" height="45.10" fill="#d3d5cc"/>
<rect x="45.30" y="480.90" width="58.40" height="45.10" fill="#d4d5cc"/>
<rect x="105.50" y="480.90" width="57.40" height="45.10" fill="url(#gbr)"/>
<line x1="76.70" y1="476.30" x2="96.70" y2="476.30" stroke="#2a2a2a" stroke-width="1.3"/>
<rect x="83.20" y="473.90" width="7.00" height="1.40" fill="#8a8a88"/>
<line x1="135.90" y1="476.30" x2="155.90" y2="476.30" stroke="#2a2a2a" stroke-width="1.3"/>
<rect x="142.40" y="473.90" width="7.00" height="1.40" fill="#8a8a88"/>
<line x1="76.70" y1="523.40" x2="96.70" y2="523.40" stroke="#2a2a2a" stroke-width="1.3"/>
<rect x="83.20" y="521.00" width="7.00" height="1.40" fill="#8a8a88"/>
<line x1="135.90" y1="523.40" x2="155.90" y2="523.40" stroke="#2a2a2a" stroke-width="1.3"/>
<rect x="142.40" y="521.00" width="7.00" height="1.40" fill="#8a8a88"/>
<g opacity="0.35">
<circle cx="124.6" cy="488.5" r="0.86" fill="#5a605a"/>
<circle cx="110.6" cy="505.0" r="0.66" fill="#5a605a"/>
<circle cx="109.7" cy="503.8" r="0.43" fill="#5a605a"/>
<circle cx="130.8" cy="485.0" r="0.46" fill="#5a605a"/>
<circle cx="130.3" cy="517.6" r="0.49" fill="#5a605a"/>
<circle cx="119.0" cy="509.0" r="1.06" fill="#5a605a"/>
<circle cx="138.8" cy="499.1" r="1.08" fill="#5a605a"/>
<circle cx="109.1" cy="518.9" r="0.60" fill="#5a605a"/>
<circle cx="114.6" cy="487.1" r="0.62" fill="#5a605a"/>
<circle cx="152.2" cy="489.8" r="0.81" fill="#5a605a"/>
<circle cx="142.3" cy="498.0" r="0.78" fill="#5a605a"/>
<circle cx="110.0" cy="484.6" r="0.54" fill="#5a605a"/>
<circle cx="144.6" cy="500.4" r="0.62" fill="#5a605a"/>
<circle cx="139.3" cy="501.5" r="0.61" fill="#5a605a"/>
<circle cx="151.0" cy="512.1" r="0.57" fill="#5a605a"/>
<circle cx="138.7" cy="504.6" r="1.01" fill="#5a605a"/>
<circle cx="147.3" cy="494.4" r="1.09" fill="#5a605a"/>
<circle cx="113.1" cy="500.0" r="0.93" fill="#5a605a"/>
<circle cx="115.0" cy="503.0" r="0.43" fill="#5a605a"/>
<circle cx="143.9" cy="514.9" r="0.80" fill="#5a605a"/>
<circle cx="155.5" cy="495.5" r="0.89" fill="#5a605a"/>
<circle cx="139.8" cy="506.9" r="0.72" fill="#5a605a"/>
<circle cx="153.5" cy="522.6" r="0.73" fill="#5a605a"/>
<circle cx="143.7" cy="484.6" r="0.89" fill="#5a605a"/>
<circle cx="142.7" cy="524.7" r="0.98" fill="#5a605a"/>
<circle cx="122.4" cy="498.6" r="0.87" fill="#5a605a"/>
<circle cx="107.8" cy="501.9" r="0.52" fill="#5a605a"/>
<circle cx="113.1" cy="484.5" r="0.94" fill="#5a605a"/>
<circle cx="113.7" cy="492.6" r="0.67" fill="#5a605a"/>
<circle cx="155.3" cy="485.5" r="0.71" fill="#5a605a"/>
<circle cx="137.3" cy="520.0" r="0.97" fill="#5a605a"/>
<circle cx="154.9" cy="494.0" r="0.69" fill="#5a605a"/>
<circle cx="126.6" cy="520.0" r="1.07" fill="#5a605a"/>
<circle cx="115.0" cy="489.6" r="0.56" fill="#5a605a"/>
<circle cx="119.6" cy="502.9" r="0.81" fill="#5a605a"/>
<circle cx="121.2" cy="482.2" r="0.69" fill="#5a605a"/>
<circle cx="127.2" cy="506.4" r="1.07" fill="#5a605a"/>
<circle cx="145.2" cy="504.2" r="0.83" fill="#5a605a"/>
<circle cx="144.4" cy="484.3" r="1.03" fill="#5a605a"/>
<circle cx="150.2" cy="519.6" r="0.96" fill="#5a605a"/>
<circle cx="128.5" cy="499.2" r="0.47" fill="#5a605a"/>
<circle cx="142.0" cy="484.7" r="0.45" fill="#5a605a"/>
<circle cx="118.2" cy="489.0" r="0.64" fill="#5a605a"/>
<circle cx="109.4" cy="482.0" r="0.51" fill="#5a605a"/>
<circle cx="112.2" cy="497.6" r="0.42" fill="#5a605a"/>
<circle cx="155.5" cy="508.4" r="0.50" fill="#5a605a"/>
<circle cx="120.6" cy="496.9" r="0.65" fill="#5a605a"/>
<circle cx="113.4" cy="518.5" r="1.10" fill="#5a605a"/>
<circle cx="132.6" cy="502.8" r="0.46" fill="#5a605a"/>
<circle cx="112.2" cy="496.7" r="0.59" fill="#5a605a"/>
<circle cx="152.9" cy="488.9" r="0.42" fill="#5a605a"/>
<circle cx="159.8" cy="504.7" r="0.50" fill="#5a605a"/>
<circle cx="136.9" cy="483.2" r="0.77" fill="#5a605a"/>
<circle cx="161.3" cy="519.1" r="0.89" fill="#5a605a"/>
<circle cx="121.1" cy="497.8" r="0.52" fill="#5a605a"/>
<circle cx="149.7" cy="504.9" r="0.95" fill="#5a605a"/>
<circle cx="125.0" cy="491.6" r="0.97" fill="#5a605a"/>
<circle cx="161.7" cy="518.7" r="0.96" fill="#5a605a"/>
<circle cx="152.3" cy="513.8" r="0.56" fill="#5a605a"/>
<circle cx="135.5" cy="497.3" r="0.42" fill="#5a605a"/>
</g>
<g opacity="0.18">
<circle cx="132.4" cy="450.7" r="0.47" fill="#5a605a"/>
<circle cx="155.0" cy="435.3" r="0.65" fill="#5a605a"/>
<circle cx="156.8" cy="438.4" r="0.68" fill="#5a605a"/>
<circle cx="141.0" cy="436.7" r="0.59" fill="#5a605a"/>
<circle cx="145.9" cy="454.0" r="0.76" fill="#5a605a"/>
<circle cx="115.3" cy="445.0" r="0.46" fill="#5a605a"/>
<circle cx="134.9" cy="473.8" r="0.70" fill="#5a605a"/>
<circle cx="149.9" cy="451.1" r="0.77" fill="#5a605a"/>
<circle cx="112.2" cy="447.2" r="0.74" fill="#5a605a"/>
<circle cx="147.1" cy="452.7" r="0.44" fill="#5a605a"/>
<circle cx="121.4" cy="443.8" r="0.54" fill="#5a605a"/>
<circle cx="151.8" cy="443.4" r="0.84" fill="#5a605a"/>
<circle cx="155.7" cy="437.3" r="0.59" fill="#5a605a"/>
<circle cx="134.0" cy="436.0" r="0.61" fill="#5a605a"/>
<circle cx="157.3" cy="439.7" r="0.70" fill="#5a605a"/>
<circle cx="113.3" cy="459.3" r="0.85" fill="#5a605a"/>
<circle cx="117.9" cy="435.3" r="0.44" fill="#5a605a"/>
<circle cx="136.7" cy="435.7" r="0.44" fill="#5a605a"/>
<circle cx="134.3" cy="473.7" r="0.61" fill="#5a605a"/>
<circle cx="128.8" cy="461.8" r="0.45" fill="#5a605a"/>
<circle cx="139.0" cy="442.2" r="0.70" fill="#5a605a"/>
<circle cx="160.2" cy="437.3" r="0.68" fill="#5a605a"/>
<circle cx="140.5" cy="441.3" r="0.53" fill="#5a605a"/>
<circle cx="162.2" cy="476.9" r="0.46" fill="#5a605a"/>
<circle cx="146.0" cy="474.9" r="0.52" fill="#5a605a"/>
<circle cx="140.7" cy="436.8" r="0.58" fill="#5a605a"/>
<circle cx="144.3" cy="459.8" r="0.79" fill="#5a605a"/>
<circle cx="111.4" cy="449.6" r="0.83" fill="#5a605a"/>
<circle cx="139.2" cy="454.0" r="0.60" fill="#5a605a"/>
<circle cx="161.7" cy="459.1" r="0.41" fill="#5a605a"/>
</g>
<line x1="122.60" y1="436.00" x2="120.03" y2="440.37" stroke="#111" stroke-width="1.6"/>
<polygon points="118.30,443.30 118.22,439.30 121.84,441.44" fill="#111"/>
<line x1="123.60" y1="486.20" x2="128.12" y2="489.71" stroke="#111" stroke-width="1.6"/>
<polygon points="130.80,491.80 126.83,491.37 129.41,488.05" fill="#111"/>
<line x1="133.90" y1="488.00" x2="138.58" y2="492.61" stroke="#111" stroke-width="1.6"/>
<polygon points="141.00,495.00 137.10,494.11 140.05,491.12" fill="#111"/>
<line x1="107.40" y1="498.90" x2="111.37" y2="502.15" stroke="#111" stroke-width="1.6"/>
<polygon points="114.00,504.30 110.04,503.77 112.70,500.52" fill="#111"/>
<line x1="137.40" y1="501.20" x2="141.99" y2="505.02" stroke="#111" stroke-width="1.6"/>
<polygon points="144.60,507.20 140.64,506.64 143.33,503.41" fill="#111"/>
<text x="71.00" y="421.00" font-size="7.6" textLength="68.9" lengthAdjust="spacingAndGlyphs" fill="#231f20" stroke="#231f20" stroke-width="0.2">Palbociclib (nmol/L)</text>
<text x="76.70" y="429.50" font-size="7.6" text-anchor="middle" fill="#231f20" stroke="#231f20" stroke-width="0.2">0</text>
<text x="136.00" y="429.50" font-size="7.6" text-anchor="middle" fill="#231f20" stroke="#231f20" stroke-width="0.2">100</text>
<text x="43.00" y="457.94" font-size="7.6" text-anchor="end" textLength="23.8" lengthAdjust="spacingAndGlyphs" fill="#231f20" stroke="#231f20" stroke-width="0.2">Control</text>
<text x="43.00" y="505.24" font-size="7.6" text-anchor="end" textLength="25.1" lengthAdjust="spacingAndGlyphs" fill="#231f20" stroke="#231f20" stroke-width="0.2">SEL201</text>
<rect x="376.20" y="433.50" width="118.20" height="93.50" fill="#3a3a33"/>
<rect x="377.50" y="434.80" width="56.60" height="44.30" fill="#c8ccae"/>
<rect x="435.90" y="434.80" width="57.20" height="44.30" fill="#cfcdb0"/>
<rect x="377.50" y="481.10" width="56.60" height="44.90" fill="#d6d3b2"/>
<rect x="435.90" y="481.10" width="57.20" height="44.90" fill="#d0ceae"/>
<filter id="cb" x="-20%" y="-20%" width="140%" height="140%"><feGaussianBlur stdDeviation="0.45"/></filter>
<filter id="cb2" x="-50%" y="-50%" width="200%" height="200%"><feGaussianBlur stdDeviation="3"/></filter>
<clipPath id="ciTR"><rect x="436" y="434.8" width="57.1" height="44.4"/></clipPath>
<clipPath id="ciBR"><rect x="436" y="481.1" width="57.1" height="44.6"/></clipPath>
<clipPath id="ciBL"><rect x="377.5" y="481.1" width="56.6" height="44.6"/></clipPath>
<clipPath id="ciTL"><rect x="377.5" y="434.8" width="56.6" height="44.4"/></clipPath>
<g clip-path="url(#ciBL)" filter="url(#cb)" opacity="0.45">
<circle cx="399.18" cy="514.64" r="2.69" fill="#dedcc0" stroke="#b9b995" stroke-width="0.5"/>
<circle cx="410.04" cy="514.56" r="2.88" fill="#dedcc0" stroke="#b9b995" stroke-width="0.5"/>
<circle cx="378.99" cy="502.49" r="2.92" fill="#dedcc0" stroke="#b9b995" stroke-width="0.5"/>
<circle cx="400.07" cy="521.64" r="1.67" fill="#dedcc0" stroke="#b9b995" stroke-width="0.5"/>
<circle cx="393.95" cy="492.85" r="2.32" fill="#dedcc0" stroke="#b9b995" stroke-width="0.5"/>
<circle cx="397.51" cy="482.58" r="1.83" fill="#dedcc0" stroke="#b9b995" stroke-width="0.5"/>
<circle cx="387.50" cy="522.32" r="2.65" fill="#dedcc0" stroke="#b9b995" stroke-width="0.5"/>
<circle cx="383.43" cy="517.07" r="1.71" fill="#dedcc0" stroke="#b9b995" stroke-width="0.5"/>
<circle cx="398.99" cy="487.57" r="1.50" fill="#dedcc0" stroke="#b9b995" stroke-width="0.5"/>
<circle cx="407.63" cy="491.22" r="1.82" fill="#dedcc0" stroke="#b9b995" stroke-width="0.5"/>
<circle cx="411.40" cy="520.39" r="1.93" fill="#dedcc0" stroke="#b9b995" stroke-width="0.5"/>
<circle cx="410.69" cy="505.73" r="2.52" fill="#dedcc0" stroke="#b9b995" stroke-width="0.5"/>
<circle cx="384.96" cy="523.40" r="2.54" fill="#dedcc0" stroke="#b9b995" stroke-width="0.5"/>
<circle cx="410.86" cy="521.32" r="1.95" fill="#dedcc0" stroke="#b9b995" stroke-width="0.5"/>
<circle cx="390.28" cy="489.30" r="1.72" fill="#dedcc0" stroke="#b9b995" stroke-width="0.5"/>
<circle cx="380.21" cy="495.26" r="2.40" fill="#dedcc0" stroke="#b9b995" stroke-width="0.5"/>
<circle cx="378.12" cy="511.83" r="2.01" fill="#dedcc0" stroke="#b9b995" stroke-width="0.5"/>
<circle cx="388.54" cy="518.01" r="2.22" fill="#dedcc0" stroke="#b9b995" stroke-width="0.5"/>
<circle cx="388.74" cy="503.17" r="2.56" fill="#dedcc0" stroke="#b9b995" stroke-width="0.5"/>
<circle cx="379.94" cy="524.90" r="1.53" fill="#dedcc0" stroke="#b9b995" stroke-width="0.5"/>
<circle cx="403.49" cy="519.17" r="1.53" fill="#dedcc0" stroke="#b9b995" stroke-width="0.5"/>
<circle cx="404.78" cy="498.11" r="2.37" fill="#dedcc0" stroke="#b9b995" stroke-width="0.5"/>
<circle cx="378.31" cy="484.06" r="1.77" fill="#dedcc0" stroke="#b9b995" stroke-width="0.5"/>
<circle cx="410.48" cy="490.65" r="2.63" fill="#dedcc0" stroke="#b9b995" stroke-width="0.5"/>
<circle cx="409.61" cy="523.45" r="2.02" fill="#dedcc0" stroke="#b9b995" stroke-width="0.5"/>
<circle cx="390.06" cy="505.09" r="2.66" fill="#dedcc0" stroke="#b9b995" stroke-width="0.5"/>
<circle cx="381.67" cy="514.93" r="2.70" fill="#dedcc0" stroke="#b9b995" stroke-width="0.5"/>
<circle cx="407.23" cy="483.61" r="2.92" fill="#dedcc0" stroke="#b9b995" stroke-width="0.5"/>
<circle cx="381.10" cy="496.99" r="2.42" fill="#dedcc0" stroke="#b9b995" stroke-width="0.5"/>
<circle cx="409.21" cy="496.96" r="2.89" fill="#dedcc0" stroke="#b9b995" stroke-width="0.5"/>
<circle cx="396.53" cy="495.75" r="1.98" fill="#dedcc0" stroke="#b9b995" stroke-width="0.5"/>
<circle cx="384.03" cy="485.44" r="1.72" fill="#dedcc0" stroke="#b9b995" stroke-width="0.5"/>
<circle cx="401.43" cy="525.86" r="1.74" fill="#dedcc0" stroke="#b9b995" stroke-width="0.5"/>
<circle cx="379.65" cy="525.41" r="2.30" fill="#dedcc0" stroke="#b9b995" stroke-width="0.5"/>
<circle cx="391.80" cy="492.44" r="2.39" fill="#dedcc0" stroke="#b9b995" stroke-width="0.5"/>
<circle cx="406.09" cy="502.05" r="2.13" fill="#dedcc0" stroke="#b9b995" stroke-width="0.5"/>
<circle cx="379.89" cy="522.31" r="1.55" fill="#dedcc0" stroke="#b9b995" stroke-width="0.5"/>
<circle cx="394.78" cy="518.89" r="1.70" fill="#dedcc0" stroke="#b9b995" stroke-width="0.5"/>
<circle cx="402.88" cy="523.79" r="2.45" fill="#dedcc0" stroke="#b9b995" stroke-width="0.5"/>
<circle cx="404.79" cy="486.69" r="2.15" fill="#dedcc0" stroke="#b9b995" stroke-width="0.5"/>
</g>
<g clip-path="url(#ciTR)">
<ellipse cx="466.50" cy="455.00" rx="21.85" ry="13.50" fill="#d9d8bf" opacity="0.85" filter="url(#cb2)" transform="rotate(-35 466.50 455.00)"/>
<g filter="url(#cb)">
<ellipse cx="483.80" cy="455.38" rx="2.89" ry="2.46" fill="#e2e1cb" stroke="#94937a" stroke-width="0.6" opacity="0.45"/>
<ellipse cx="471.94" cy="463.63" rx="2.48" ry="2.11" fill="#e2e1cb" stroke="#94937a" stroke-width="0.6" opacity="0.45"/>
<ellipse cx="450.76" cy="452.93" rx="2.02" ry="1.72" fill="#e2e1cb" stroke="#94937a" stroke-width="0.6" opacity="0.45"/>
<ellipse cx="484.68" cy="445.21" rx="2.46" ry="2.09" fill="#e2e1cb" stroke="#94937a" stroke-width="0.6" opacity="0.45"/>
<ellipse cx="466.26" cy="454.55" rx="2.48" ry="2.11" fill="#e2e1cb" stroke="#94937a" stroke-width="0.6" opacity="0.45"/>
<ellipse cx="461.25" cy="450.67" rx="3.13" ry="2.66" fill="#e2e1cb" stroke="#94937a" stroke-width="0.6" opacity="0.45"/>
<ellipse cx="468.02" cy="452.37" rx="1.93" ry="1.64" fill="#e2e1cb" stroke="#94937a" stroke-width="0.6" opacity="0.45"/>
<ellipse cx="446.77" cy="464.26" rx="2.40" ry="2.04" fill="#e2e1cb" stroke="#94937a" stroke-width="0.6" opacity="0.45"/>
<ellipse cx="474.18" cy="460.77" rx="1.94" ry="1.65" fill="#e2e1cb" stroke="#94937a" stroke-width="0.6" opacity="0.45"/>
<ellipse cx="473.99" cy="461.20" rx="2.54" ry="2.16" fill="#e2e1cb" stroke="#94937a" stroke-width="0.6" opacity="0.45"/>
<ellipse cx="471.21" cy="459.83" rx="2.18" ry="1.86" fill="#e2e1cb" stroke="#94937a" stroke-width="0.6" opacity="0.45"/>
<ellipse cx="458.37" cy="463.02" rx="1.93" ry="1.64" fill="#e2e1cb" stroke="#94937a" stroke-width="0.6" opacity="0.45"/>
<ellipse cx="468.32" cy="442.42" rx="2.73" ry="2.32" fill="#e2e1cb" stroke="#94937a" stroke-width="0.6" opacity="0.45"/>
<ellipse cx="481.74" cy="461.11" rx="3.02" ry="2.57" fill="#e2e1cb" stroke="#94937a" stroke-width="0.6" opacity="0.45"/>
<ellipse cx="477.19" cy="454.40" rx="2.84" ry="2.41" fill="#e2e1cb" stroke="#94937a" stroke-width="0.6" opacity="0.45"/>
<ellipse cx="454.06" cy="446.57" rx="2.45" ry="2.08" fill="#e2e1cb" stroke="#94937a" stroke-width="0.6" opacity="0.45"/>
<ellipse cx="467.73" cy="441.26" rx="2.29" ry="1.95" fill="#e2e1cb" stroke="#94937a" stroke-width="0.6" opacity="0.45"/>
<ellipse cx="447.31" cy="459.50" rx="3.00" ry="2.55" fill="#e2e1cb" stroke="#94937a" stroke-width="0.6" opacity="0.45"/>
<ellipse cx="452.21" cy="464.55" rx="1.94" ry="1.65" fill="#e2e1cb" stroke="#94937a" stroke-width="0.6" opacity="0.45"/>
<ellipse cx="474.85" cy="465.31" rx="2.44" ry="2.07" fill="#e2e1cb" stroke="#94937a" stroke-width="0.6" opacity="0.45"/>
<ellipse cx="478.28" cy="458.41" rx="2.81" ry="2.39" fill="#e2e1cb" stroke="#94937a" stroke-width="0.6" opacity="0.45"/>
<ellipse cx="457.02" cy="452.14" rx="2.47" ry="2.10" fill="#e2e1cb" stroke="#94937a" stroke-width="0.6" opacity="0.45"/>
<ellipse cx="449.71" cy="465.91" rx="2.58" ry="2.19" fill="#e2e1cb" stroke="#94937a" stroke-width="0.6" opacity="0.45"/>
<ellipse cx="460.15" cy="467.14" rx="1.94" ry="1.65" fill="#e2e1cb" stroke="#94937a" stroke-width="0.6" opacity="0.45"/>
<ellipse cx="483.36" cy="447.26" rx="3.18" ry="2.70" fill="#e2e1cb" stroke="#94937a" stroke-width="0.6" opacity="0.45"/>
<ellipse cx="454.25" cy="457.52" rx="2.12" ry="1.80" fill="#e2e1cb" stroke="#94937a" stroke-width="0.6" opacity="0.45"/>
<ellipse cx="447.73" cy="467.89" rx="2.90" ry="2.47" fill="#e2e1cb" stroke="#94937a" stroke-width="0.6" opacity="0.45"/>
<ellipse cx="447.74" cy="463.98" rx="2.20" ry="1.87" fill="#e2e1cb" stroke="#94937a" stroke-width="0.6" opacity="0.45"/>
<ellipse cx="447.50" cy="466.76" rx="2.65" ry="2.25" fill="#e2e1cb" stroke="#94937a" stroke-width="0.6" opacity="0.45"/>
<ellipse cx="458.71" cy="462.72" rx="2.61" ry="2.22" fill="#e2e1cb" stroke="#94937a" stroke-width="0.6" opacity="0.45"/>
<ellipse cx="467.43" cy="454.07" rx="2.92" ry="2.48" fill="#e2e1cb" stroke="#94937a" stroke-width="0.6" opacity="0.45"/>
<ellipse cx="466.78" cy="439.32" rx="2.86" ry="2.43" fill="#e2e1cb" stroke="#94937a" stroke-width="0.6" opacity="0.45"/>
<ellipse cx="465.68" cy="443.68" rx="2.63" ry="2.24" fill="#e2e1cb" stroke="#94937a" stroke-width="0.6" opacity="0.45"/>
<ellipse cx="463.84" cy="458.55" rx="3.03" ry="2.58" fill="#e2e1cb" stroke="#94937a" stroke-width="0.6" opacity="0.45"/>
<ellipse cx="457.96" cy="457.77" rx="2.56" ry="2.17" fill="#e2e1cb" stroke="#94937a" stroke-width="0.6" opacity="0.45"/>
<ellipse cx="456.32" cy="463.11" rx="2.35" ry="2.00" fill="#e2e1cb" stroke="#94937a" stroke-width="0.6" opacity="0.45"/>
<ellipse cx="450.80" cy="462.61" rx="2.70" ry="2.29" fill="#e2e1cb" stroke="#94937a" stroke-width="0.6" opacity="0.45"/>
<ellipse cx="464.27" cy="457.23" rx="2.20" ry="1.87" fill="#e2e1cb" stroke="#94937a" stroke-width="0.6" opacity="0.45"/>
<ellipse cx="478.44" cy="458.87" rx="3.02" ry="2.57" fill="#e2e1cb" stroke="#94937a" stroke-width="0.6" opacity="0.45"/>
<ellipse cx="464.24" cy="441.16" rx="2.96" ry="2.52" fill="#e2e1cb" stroke="#94937a" stroke-width="0.6" opacity="0.45"/>
<ellipse cx="473.75" cy="466.57" rx="2.78" ry="2.36" fill="#e2e1cb" stroke="#94937a" stroke-width="0.6" opacity="0.45"/>
<ellipse cx="468.67" cy="454.44" rx="1.92" ry="1.63" fill="#e2e1cb" stroke="#94937a" stroke-width="0.6" opacity="0.45"/>
<ellipse cx="462.80" cy="449.06" rx="2.04" ry="1.74" fill="#e2e1cb" stroke="#94937a" stroke-width="0.6" opacity="0.45"/>
<ellipse cx="455.70" cy="455.37" rx="1.99" ry="1.69" fill="#e2e1cb" stroke="#94937a" stroke-width="0.6" opacity="0.45"/>
<ellipse cx="478.73" cy="457.30" rx="2.12" ry="1.80" fill="#e2e1cb" stroke="#94937a" stroke-width="0.6" opacity="0.45"/>
<ellipse cx="471.32" cy="466.65" rx="2.49" ry="2.12" fill="#e2e1cb" stroke="#94937a" stroke-width="0.6" opacity="0.45"/>
<ellipse cx="466.17" cy="466.15" rx="1.93" ry="1.64" fill="#e2e1cb" stroke="#94937a" stroke-width="0.6" opacity="0.45"/>
<ellipse cx="461.14" cy="466.19" rx="2.14" ry="1.82" fill="#e2e1cb" stroke="#94937a" stroke-width="0.6" opacity="0.45"/>
<ellipse cx="485.41" cy="452.67" rx="2.56" ry="2.18" fill="#e2e1cb" stroke="#94937a" stroke-width="0.6" opacity="0.45"/>
<ellipse cx="476.45" cy="461.47" rx="2.96" ry="2.52" fill="#e2e1cb" stroke="#94937a" stroke-width="0.6" opacity="0.45"/>
<ellipse cx="468.66" cy="453.75" rx="2.09" ry="1.78" fill="#e2e1cb" stroke="#94937a" stroke-width="0.6" opacity="0.45"/>
<ellipse cx="462.08" cy="451.54" rx="2.82" ry="2.39" fill="#e2e1cb" stroke="#94937a" stroke-width="0.6" opacity="0.45"/>
<ellipse cx="455.07" cy="451.20" rx="2.19" ry="1.86" fill="#e2e1cb" stroke="#94937a" stroke-width="0.6" opacity="0.45"/>
<ellipse cx="481.78" cy="441.83" rx="2.57" ry="2.19" fill="#e2e1cb" stroke="#94937a" stroke-width="0.6" opacity="0.45"/>
<ellipse cx="475.67" cy="462.80" rx="2.41" ry="2.05" fill="#e2e1cb" stroke="#94937a" stroke-width="0.6" opacity="0.45"/>
<ellipse cx="455.42" cy="458.26" rx="2.72" ry="2.31" fill="#e2e1cb" stroke="#94937a" stroke-width="0.6" opacity="0.45"/>
<ellipse cx="477.14" cy="450.95" rx="3.16" ry="2.68" fill="#e2e1cb" stroke="#94937a" stroke-width="0.6" opacity="0.45"/>
<ellipse cx="470.31" cy="445.60" rx="3.02" ry="2.56" fill="#e2e1cb" stroke="#94937a" stroke-width="0.6" opacity="0.45"/>
<ellipse cx="467.48" cy="470.75" rx="2.87" ry="2.44" fill="#e2e1cb" stroke="#94937a" stroke-width="0.6" opacity="0.45"/>
<ellipse cx="460.89" cy="463.24" rx="1.91" ry="1.62" fill="#e2e1cb" stroke="#94937a" stroke-width="0.6" opacity="0.45"/>
<ellipse cx="467.77" cy="452.02" rx="2.97" ry="2.52" fill="#e2e1cb" stroke="#94937a" stroke-width="0.6" opacity="0.45"/>
<ellipse cx="478.46" cy="443.46" rx="2.12" ry="1.80" fill="#e2e1cb" stroke="#94937a" stroke-width="0.6" opacity="0.45"/>
<ellipse cx="472.76" cy="437.29" rx="2.82" ry="2.39" fill="#e2e1cb" stroke="#94937a" stroke-width="0.6" opacity="0.45"/>
<ellipse cx="455.20" cy="462.31" rx="2.35" ry="2.00" fill="#e2e1cb" stroke="#94937a" stroke-width="0.6" opacity="0.45"/>
<ellipse cx="477.32" cy="461.60" rx="2.46" ry="2.09" fill="#e2e1cb" stroke="#94937a" stroke-width="0.6" opacity="0.45"/>
<ellipse cx="470.70" cy="457.02" rx="2.77" ry="2.35" fill="#e2e1cb" stroke="#94937a" stroke-width="0.6" opacity="0.45"/>
<ellipse cx="468.46" cy="465.61" rx="2.32" ry="1.97" fill="#e2e1cb" stroke="#94937a" stroke-width="0.6" opacity="0.45"/>
<ellipse cx="472.94" cy="438.02" rx="1.92" ry="1.63" fill="#e2e1cb" stroke="#94937a" stroke-width="0.6" opacity="0.45"/>
<ellipse cx="474.04" cy="459.17" rx="3.18" ry="2.71" fill="#e2e1cb" stroke="#94937a" stroke-width="0.6" opacity="0.45"/>
<ellipse cx="463.97" cy="446.88" rx="2.18" ry="1.85" fill="#e2e1cb" stroke="#94937a" stroke-width="0.6" opacity="0.45"/>
<ellipse cx="451.74" cy="450.56" rx="3.11" ry="2.65" fill="#e2e1cb" stroke="#94937a" stroke-width="0.6" opacity="0.45"/>
<ellipse cx="463.40" cy="471.38" rx="2.79" ry="2.37" fill="#e2e1cb" stroke="#94937a" stroke-width="0.6" opacity="0.45"/>
<ellipse cx="448.73" cy="469.21" rx="2.21" ry="1.87" fill="#e2e1cb" stroke="#94937a" stroke-width="0.6" opacity="0.45"/>
<ellipse cx="463.57" cy="452.40" rx="2.12" ry="1.80" fill="#e2e1cb" stroke="#94937a" stroke-width="0.6" opacity="0.45"/>
<ellipse cx="471.37" cy="447.44" rx="2.89" ry="2.45" fill="#e2e1cb" stroke="#94937a" stroke-width="0.6" opacity="0.45"/>
</g></g>
<g clip-path="url(#ciBR)">
<ellipse cx="465.00" cy="502.00" rx="14.25" ry="14.40" fill="#d9d8bf" opacity="0.85" filter="url(#cb2)" transform="rotate(0 465.00 502.00)"/>
<g filter="url(#cb)">
<ellipse cx="479.01" cy="497.76" rx="1.97" ry="1.68" fill="#e2e1cb" stroke="#94937a" stroke-width="0.6" opacity="0.45"/>
<ellipse cx="476.70" cy="509.37" rx="2.86" ry="2.43" fill="#e2e1cb" stroke="#94937a" stroke-width="0.6" opacity="0.45"/>
<ellipse cx="461.21" cy="494.67" rx="2.69" ry="2.28" fill="#e2e1cb" stroke="#94937a" stroke-width="0.6" opacity="0.45"/>
<ellipse cx="456.28" cy="494.62" rx="2.11" ry="1.79" fill="#e2e1cb" stroke="#94937a" stroke-width="0.6" opacity="0.45"/>
<ellipse cx="456.86" cy="506.04" rx="2.84" ry="2.41" fill="#e2e1cb" stroke="#94937a" stroke-width="0.6" opacity="0.45"/>
<ellipse cx="479.57" cy="501.49" rx="2.61" ry="2.22" fill="#e2e1cb" stroke="#94937a" stroke-width="0.6" opacity="0.45"/>
<ellipse cx="458.16" cy="504.64" rx="1.95" ry="1.65" fill="#e2e1cb" stroke="#94937a" stroke-width="0.6" opacity="0.45"/>
<ellipse cx="474.70" cy="503.80" rx="2.31" ry="1.97" fill="#e2e1cb" stroke="#94937a" stroke-width="0.6" opacity="0.45"/>
<ellipse cx="454.73" cy="512.28" rx="2.58" ry="2.20" fill="#e2e1cb" stroke="#94937a" stroke-width="0.6" opacity="0.45"/>
<ellipse cx="458.70" cy="499.32" rx="1.93" ry="1.64" fill="#e2e1cb" stroke="#94937a" stroke-width="0.6" opacity="0.45"/>
<ellipse cx="462.72" cy="506.77" rx="2.56" ry="2.18" fill="#e2e1cb" stroke="#94937a" stroke-width="0.6" opacity="0.45"/>
<ellipse cx="477.08" cy="501.89" rx="2.14" ry="1.82" fill="#e2e1cb" stroke="#94937a" stroke-width="0.6" opacity="0.45"/>
<ellipse cx="475.39" cy="493.24" rx="2.85" ry="2.43" fill="#e2e1cb" stroke="#94937a" stroke-width="0.6" opacity="0.45"/>
<ellipse cx="475.76" cy="494.36" rx="2.93" ry="2.49" fill="#e2e1cb" stroke="#94937a" stroke-width="0.6" opacity="0.45"/>
<ellipse cx="455.99" cy="514.58" rx="3.15" ry="2.68" fill="#e2e1cb" stroke="#94937a" stroke-width="0.6" opacity="0.45"/>
<ellipse cx="471.80" cy="513.62" rx="2.83" ry="2.41" fill="#e2e1cb" stroke="#94937a" stroke-width="0.6" opacity="0.45"/>
<ellipse cx="454.73" cy="504.71" rx="2.54" ry="2.16" fill="#e2e1cb" stroke="#94937a" stroke-width="0.6" opacity="0.45"/>
<ellipse cx="474.13" cy="497.02" rx="2.98" ry="2.53" fill="#e2e1cb" stroke="#94937a" stroke-width="0.6" opacity="0.45"/>
<ellipse cx="456.49" cy="513.87" rx="3.07" ry="2.61" fill="#e2e1cb" stroke="#94937a" stroke-width="0.6" opacity="0.45"/>
<ellipse cx="454.34" cy="504.84" rx="3.10" ry="2.63" fill="#e2e1cb" stroke="#94937a" stroke-width="0.6" opacity="0.45"/>
<ellipse cx="463.34" cy="491.38" rx="2.19" ry="1.86" fill="#e2e1cb" stroke="#94937a" stroke-width="0.6" opacity="0.45"/>
<ellipse cx="459.43" cy="513.73" rx="2.12" ry="1.80" fill="#e2e1cb" stroke="#94937a" stroke-width="0.6" opacity="0.45"/>
<ellipse cx="471.09" cy="497.76" rx="3.08" ry="2.62" fill="#e2e1cb" stroke="#94937a" stroke-width="0.6" opacity="0.45"/>
<ellipse cx="459.65" cy="516.54" rx="2.82" ry="2.40" fill="#e2e1cb" stroke="#94937a" stroke-width="0.6" opacity="0.45"/>
<ellipse cx="454.56" cy="501.70" rx="2.75" ry="2.33" fill="#e2e1cb" stroke="#94937a" stroke-width="0.6" opacity="0.45"/>
<ellipse cx="458.27" cy="497.58" rx="2.17" ry="1.84" fill="#e2e1cb" stroke="#94937a" stroke-width="0.6" opacity="0.45"/>
<ellipse cx="450.59" cy="500.85" rx="2.71" ry="2.30" fill="#e2e1cb" stroke="#94937a" stroke-width="0.6" opacity="0.45"/>
<ellipse cx="476.97" cy="508.54" rx="2.84" ry="2.42" fill="#e2e1cb" stroke="#94937a" stroke-width="0.6" opacity="0.45"/>
<ellipse cx="470.05" cy="498.47" rx="2.87" ry="2.44" fill="#e2e1cb" stroke="#94937a" stroke-width="0.6" opacity="0.45"/>
<ellipse cx="476.07" cy="506.57" rx="2.26" ry="1.92" fill="#e2e1cb" stroke="#94937a" stroke-width="0.6" opacity="0.45"/>
<ellipse cx="467.04" cy="516.71" rx="2.04" ry="1.73" fill="#e2e1cb" stroke="#94937a" stroke-width="0.6" opacity="0.45"/>
<ellipse cx="451.38" cy="499.95" rx="2.22" ry="1.89" fill="#e2e1cb" stroke="#94937a" stroke-width="0.6" opacity="0.45"/>
<ellipse cx="468.44" cy="516.46" rx="2.45" ry="2.08" fill="#e2e1cb" stroke="#94937a" stroke-width="0.6" opacity="0.45"/>
<ellipse cx="464.54" cy="499.65" rx="2.37" ry="2.02" fill="#e2e1cb" stroke="#94937a" stroke-width="0.6" opacity="0.45"/>
<ellipse cx="470.69" cy="513.35" rx="2.01" ry="1.71" fill="#e2e1cb" stroke="#94937a" stroke-width="0.6" opacity="0.45"/>
<ellipse cx="466.91" cy="501.40" rx="2.85" ry="2.42" fill="#e2e1cb" stroke="#94937a" stroke-width="0.6" opacity="0.45"/>
<ellipse cx="472.02" cy="503.00" rx="2.96" ry="2.51" fill="#e2e1cb" stroke="#94937a" stroke-width="0.6" opacity="0.45"/>
<ellipse cx="468.26" cy="507.26" rx="2.80" ry="2.38" fill="#e2e1cb" stroke="#94937a" stroke-width="0.6" opacity="0.45"/>
<ellipse cx="463.00" cy="503.87" rx="3.19" ry="2.71" fill="#e2e1cb" stroke="#94937a" stroke-width="0.6" opacity="0.45"/>
<ellipse cx="466.41" cy="504.10" rx="2.35" ry="2.00" fill="#e2e1cb" stroke="#94937a" stroke-width="0.6" opacity="0.45"/>
<ellipse cx="455.46" cy="493.00" rx="2.05" ry="1.74" fill="#e2e1cb" stroke="#94937a" stroke-width="0.6" opacity="0.45"/>
<ellipse cx="463.85" cy="504.01" rx="2.48" ry="2.11" fill="#e2e1cb" stroke="#94937a" stroke-width="0.6" opacity="0.45"/>
<ellipse cx="466.27" cy="488.51" rx="3.07" ry="2.61" fill="#e2e1cb" stroke="#94937a" stroke-width="0.6" opacity="0.45"/>
<ellipse cx="465.49" cy="487.26" rx="2.82" ry="2.39" fill="#e2e1cb" stroke="#94937a" stroke-width="0.6" opacity="0.45"/>
<ellipse cx="458.48" cy="503.20" rx="2.76" ry="2.35" fill="#e2e1cb" stroke="#94937a" stroke-width="0.6" opacity="0.45"/>
<ellipse cx="463.27" cy="506.17" rx="2.48" ry="2.11" fill="#e2e1cb" stroke="#94937a" stroke-width="0.6" opacity="0.45"/>
<ellipse cx="468.41" cy="498.35" rx="2.66" ry="2.26" fill="#e2e1cb" stroke="#94937a" stroke-width="0.6" opacity="0.45"/>
<ellipse cx="456.86" cy="508.92" rx="2.09" ry="1.77" fill="#e2e1cb" stroke="#94937a" stroke-width="0.6" opacity="0.45"/>
<ellipse cx="471.91" cy="500.09" rx="2.69" ry="2.28" fill="#e2e1cb" stroke="#94937a" stroke-width="0.6" opacity="0.45"/>
<ellipse cx="463.56" cy="502.85" rx="2.63" ry="2.23" fill="#e2e1cb" stroke="#94937a" stroke-width="0.6" opacity="0.45"/>
<ellipse cx="466.97" cy="504.55" rx="1.94" ry="1.65" fill="#e2e1cb" stroke="#94937a" stroke-width="0.6" opacity="0.45"/>
<ellipse cx="467.19" cy="505.74" rx="2.73" ry="2.32" fill="#e2e1cb" stroke="#94937a" stroke-width="0.6" opacity="0.45"/>
<ellipse cx="450.16" cy="501.18" rx="3.11" ry="2.65" fill="#e2e1cb" stroke="#94937a" stroke-width="0.6" opacity="0.45"/>
<ellipse cx="471.72" cy="501.75" rx="2.48" ry="2.11" fill="#e2e1cb" stroke="#94937a" stroke-width="0.6" opacity="0.45"/>
<ellipse cx="464.95" cy="513.98" rx="2.71" ry="2.30" fill="#e2e1cb" stroke="#94937a" stroke-width="0.6" opacity="0.45"/>
</g></g>
<rect x="425.60" y="474.90" width="6.50" height="2.60" fill="#5c5b48"/>
<rect x="484.60" y="474.90" width="6.50" height="2.60" fill="#5c5b48"/>
<rect x="425.60" y="521.80" width="6.50" height="2.60" fill="#5c5b48"/>
<rect x="484.60" y="521.80" width="6.50" height="2.60" fill="#5c5b48"/>
<line x1="415.80" y1="437.00" x2="412.59" y2="440.80" stroke="#111" stroke-width="1.6"/>
<polygon points="410.40,443.40 410.99,439.45 414.20,442.16" fill="#111"/>
<line x1="440.80" y1="435.50" x2="444.52" y2="438.41" stroke="#111" stroke-width="1.6"/>
<polygon points="447.20,440.50 443.23,440.06 445.81,436.75" fill="#111"/>
<line x1="442.30" y1="468.40" x2="446.72" y2="467.19" stroke="#111" stroke-width="1.6"/>
<polygon points="450.00,466.30 447.27,469.22 446.17,465.17" fill="#111"/>
<line x1="392.80" y1="493.80" x2="396.30" y2="491.67" stroke="#111" stroke-width="1.6"/>
<polygon points="399.20,489.90 397.39,493.46 395.20,489.88" fill="#111"/>
<line x1="417.70" y1="500.40" x2="413.56" y2="499.17" stroke="#111" stroke-width="1.6"/>
<polygon points="410.30,498.20 414.16,497.16 412.96,501.18" fill="#111"/>
<line x1="417.40" y1="504.20" x2="413.31" y2="503.26" stroke="#111" stroke-width="1.6"/>
<polygon points="410.00,502.50 413.78,501.21 412.84,505.31" fill="#111"/>
<line x1="440.50" y1="510.10" x2="444.73" y2="507.75" stroke="#111" stroke-width="1.6"/>
<polygon points="447.70,506.10 445.75,509.59 443.71,505.92" fill="#111"/>
<line x1="448.50" y1="520.80" x2="452.14" y2="518.18" stroke="#111" stroke-width="1.6"/>
<polygon points="454.90,516.20 453.36,519.89 450.91,516.48" fill="#111"/>
<line x1="474.90" y1="521.90" x2="472.35" y2="518.51" stroke="#111" stroke-width="1.6"/>
<polygon points="470.30,515.80 474.02,517.25 470.67,519.78" fill="#111"/>
<text x="401.20" y="421.50" font-size="7.6" textLength="69.5" lengthAdjust="spacingAndGlyphs" fill="#231f20" stroke="#231f20" stroke-width="0.2">Palbociclib (nmol/L)</text>
<text x="403.60" y="431.20" font-size="7.6" text-anchor="middle" fill="#231f20" stroke="#231f20" stroke-width="0.2">0</text>
<text x="467.30" y="431.80" font-size="7.6" text-anchor="middle" fill="#231f20" stroke="#231f20" stroke-width="0.2">100</text>
<text x="372.80" y="460.54" font-size="7.6" text-anchor="end" textLength="23.0" lengthAdjust="spacingAndGlyphs" fill="#231f20" stroke="#231f20" stroke-width="0.2">Control</text>
<text x="373.30" y="507.34" font-size="7.6" text-anchor="end" textLength="24.1" lengthAdjust="spacingAndGlyphs" fill="#231f20" stroke="#231f20" stroke-width="0.2">SEL201</text>
<text x="188.20" y="257.20" font-size="12.8" font-weight="bold" fill="#000" stroke="#000" stroke-width="0.2">H</text>
<text x="260.80" y="261.50" font-size="8.5" textLength="18.2" lengthAdjust="spacingAndGlyphs" fill="#231f20" stroke="#231f20" stroke-width="0.2">BLM</text>
<text x="256.80" y="277.83" font-size="7.3" text-anchor="middle" textLength="11.5" lengthAdjust="spacingAndGlyphs" fill="#231f20" stroke="#231f20" stroke-width="0.2">CTL</text>
<text x="283.40" y="277.83" font-size="7.3" text-anchor="middle" textLength="12.9" lengthAdjust="spacingAndGlyphs" fill="#231f20" stroke="#231f20" stroke-width="0.2">P+S</text>
<rect x="244.60" y="280.10" width="53.10" height="169.40" fill="#3d3d3d"/>
<rect x="245.90" y="281.40" width="50.50" height="15.90" fill="url(#bgH)"/>
<rect x="249.80" y="289.35" width="17.40" height="3.10" rx="1.86" ry="1.24" fill="rgb(57,57,57)" filter="url(#bl2)"/>
<rect x="274.40" y="289.25" width="17.80" height="4.10" rx="2.46" ry="1.64" fill="rgb(33,33,33)" filter="url(#bl2)"/>
<rect x="250.50" y="285.45" width="16.00" height="2.50" rx="1.50" ry="1.00" fill="rgb(161,161,161)" filter="url(#bl2)"/>
<rect x="275.30" y="285.05" width="16.00" height="2.90" rx="1.74" ry="1.16" fill="rgb(145,145,145)" filter="url(#bl2)"/>
<text x="241.60" y="291.34" font-size="7.9" text-anchor="end" textLength="32.8" lengthAdjust="spacingAndGlyphs" fill="#231f20" stroke="#231f20" stroke-width="0.2">Fibronectin</text>
<rect x="245.90" y="300.27" width="50.50" height="15.90" fill="url(#bgH)"/>
<rect x="248.00" y="307.15" width="19.60" height="2.90" rx="1.74" ry="1.16" fill="rgb(105,105,105)" filter="url(#bl2)"/>
<rect x="273.50" y="307.45" width="20.60" height="3.50" rx="2.10" ry="1.40" fill="rgb(65,65,65)" filter="url(#bl2)"/>
<text x="241.60" y="310.21" font-size="7.9" text-anchor="end" textLength="17.5" lengthAdjust="spacingAndGlyphs" fill="#231f20" stroke="#231f20" stroke-width="0.2">ATG7</text>
<rect x="245.90" y="319.14" width="50.50" height="15.90" fill="url(#bgH)"/>
<rect x="247.10" y="323.45" width="21.80" height="2.50" rx="1.50" ry="1.00" fill="rgb(129,129,129)" filter="url(#bl2)"/>
<rect x="271.00" y="322.95" width="23.00" height="3.50" rx="2.10" ry="1.40" fill="rgb(49,49,49)" filter="url(#bl2)"/>
<text x="241.60" y="329.08" font-size="7.9" text-anchor="end" textLength="22.2" lengthAdjust="spacingAndGlyphs" fill="#231f20" stroke="#231f20" stroke-width="0.2">PDCD4</text>
<rect x="245.90" y="338.01" width="50.50" height="15.90" fill="url(#bgH)"/>
<rect x="249.30" y="345.35" width="18.40" height="2.30" rx="1.38" ry="0.92" fill="rgb(145,145,145)" filter="url(#bl2)"/>
<polygon points="274.5,344.0 277,343.6 285,344.6 294,346.6 294,348.4 285,347.3 277,347.6 274.5,347.4" fill="rgb(45,45,45)" filter="url(#bl2)"/>
<text x="241.60" y="347.95" font-size="7.9" text-anchor="end" textLength="18.9" lengthAdjust="spacingAndGlyphs" fill="#231f20" stroke="#231f20" stroke-width="0.2">ISG15</text>
<rect x="245.90" y="356.88" width="50.50" height="15.90" fill="url(#bgH)"/>
<rect x="249.00" y="360.35" width="18.60" height="7.70" rx="1" fill="rgb(60,60,60)" filter="url(#bl2)"/>
<rect x="273.50" y="360.65" width="19.60" height="7.10" rx="1" fill="rgb(92,92,92)" filter="url(#bl2)"/>
<text x="241.60" y="366.82" font-size="7.9" text-anchor="end" textLength="15.6" lengthAdjust="spacingAndGlyphs" fill="#231f20" stroke="#231f20" stroke-width="0.2">p-RB</text>
<rect x="245.90" y="375.75" width="50.50" height="15.90" fill="url(#bgH)"/>
<rect x="247.60" y="379.35" width="20.00" height="4.70" rx="2.82" ry="1.88" fill="rgb(41,41,41)" filter="url(#bl2)"/>
<rect x="273.30" y="380.35" width="20.00" height="3.90" rx="2.34" ry="1.56" fill="rgb(65,65,65)" filter="url(#bl2)"/>
<rect x="248.10" y="386.25" width="19.00" height="2.50" rx="1.50" ry="1.00" fill="rgb(129,129,129)" filter="url(#bl2)"/>
<rect x="273.80" y="386.65" width="19.00" height="2.70" rx="1.62" ry="1.08" fill="rgb(97,97,97)" filter="url(#bl2)"/>
<text x="241.60" y="385.69" font-size="7.9" text-anchor="end" textLength="9.5" lengthAdjust="spacingAndGlyphs" fill="#231f20" stroke="#231f20" stroke-width="0.2">RB</text>
<rect x="245.90" y="394.62" width="50.50" height="15.90" fill="url(#bgH)"/>
<rect x="274.00" y="399.75" width="18.00" height="2.50" rx="1.50" ry="1.00" fill="rgb(173,173,173)" filter="url(#bl2)"/>
<polygon points="247.2,404.8 251,402.0 256,399.6 262,398.6 266.6,399.0 266.6,402.8 262,403.4 256,404.4 250,406.8 247.2,408.2" fill="rgb(25,25,25)" filter="url(#bl2)"/>
<text x="241.60" y="404.56" font-size="7.9" text-anchor="end" textLength="23.9" lengthAdjust="spacingAndGlyphs" fill="#231f20" stroke="#231f20" stroke-width="0.2">p-eIF4E</text>
<rect x="245.90" y="413.49" width="50.50" height="15.90" fill="url(#bgH)"/>
<rect x="248.70" y="420.55" width="19.60" height="3.10" rx="1.86" ry="1.24" fill="rgb(57,57,57)" filter="url(#bl2)"/>
<rect x="273.00" y="420.55" width="20.00" height="3.10" rx="1.86" ry="1.24" fill="rgb(57,57,57)" filter="url(#bl2)"/>
<text x="241.60" y="423.43" font-size="7.9" text-anchor="end" textLength="18.2" lengthAdjust="spacingAndGlyphs" fill="#231f20" stroke="#231f20" stroke-width="0.2">eIF4E</text>
<rect x="245.90" y="432.36" width="50.50" height="15.90" fill="url(#bgH)"/>
<rect x="248.00" y="438.65" width="45.60" height="3.10" rx="1.86" ry="1.24" fill="rgb(49,49,49)" filter="url(#bl2)"/>
<text x="241.60" y="442.30" font-size="7.9" text-anchor="end" textLength="23.9" lengthAdjust="spacingAndGlyphs" fill="#231f20" stroke="#231f20" stroke-width="0.2">GAPDH</text>
</svg></body></html>
